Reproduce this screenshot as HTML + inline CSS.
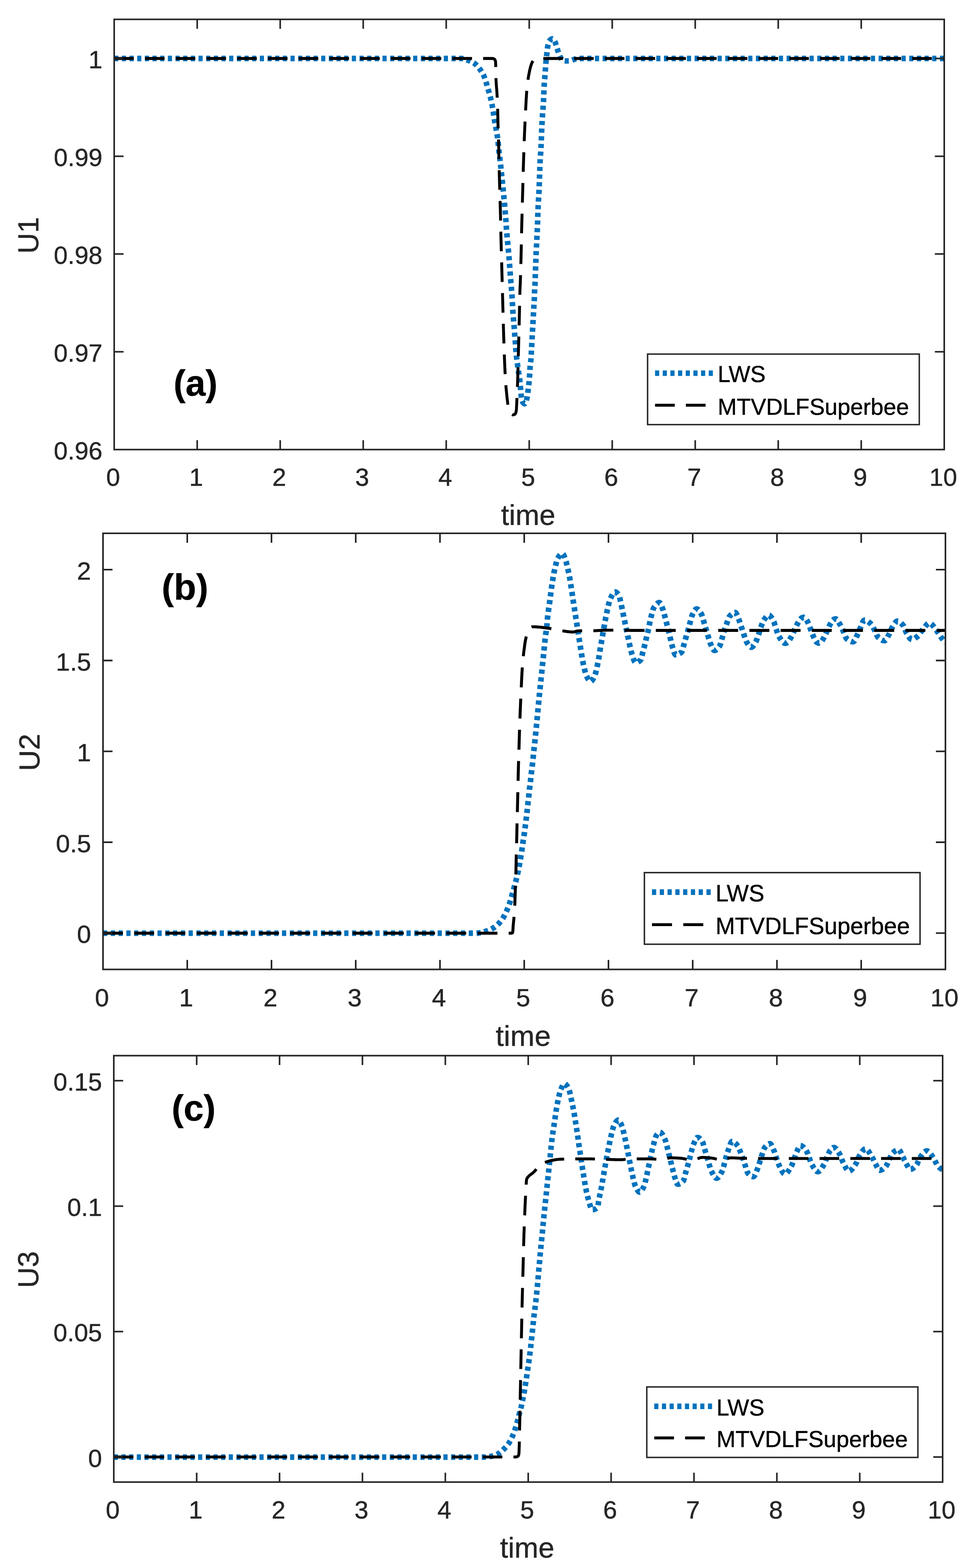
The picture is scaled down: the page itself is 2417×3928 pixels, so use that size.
<!DOCTYPE html>
<html><head><meta charset="utf-8"><title>U1 U2 U3 vs time</title>
<style>html,body{margin:0;padding:0;background:#fff;}svg{display:block;}</style>
</head><body>
<svg width="2417" height="3928" viewBox="0 0 2417 3928">
<rect x="0" y="0" width="2417" height="3928" fill="#fff"/>
<clipPath id="c0"><rect x="286" y="48.5" width="2079" height="1077.7"/></clipPath>
<path d="M286.0 146.5 1156.0 146.5 1158.5 146.7 1161.1 147.2 1163.6 147.9 1166.1 148.7 1168.7 149.6 1171.2 150.5 1173.6 151.3 1176.0 152.3 1178.4 153.3 1180.9 154.4 1183.3 155.6 1185.7 157.0 1188.1 158.5 1189.9 159.9 1191.7 161.5 1193.5 163.3 1195.4 165.3 1197.2 167.4 1199.0 169.7 1200.8 172.0 1202.1 173.7 1203.5 175.5 1204.8 177.4 1206.1 179.4 1207.4 181.6 1208.8 183.8 1210.1 186.3 1211.4 189.0 1212.3 191.0 1213.2 193.4 1214.1 195.9 1215.0 198.6 1215.9 201.3 1216.8 204.2 1217.7 207.0 1218.5 209.4 1219.2 211.9 1220.0 214.5 1220.7 217.1 1221.5 219.7 1222.2 222.4 1223.0 225.0 1223.8 227.6 1224.5 230.2 1225.3 232.8 1226.0 235.5 1226.8 238.2 1227.5 241.0 1228.3 244.0 1228.9 246.4 1229.5 249.0 1230.1 251.6 1230.7 254.3 1231.3 257.1 1231.9 260.0 1232.5 263.0 1233.0 265.4 1233.4 268.0 1233.9 270.7 1234.3 273.4 1234.8 276.2 1235.2 279.1 1235.7 282.0 1236.1 284.6 1236.5 287.4 1236.9 290.2 1237.3 293.0 1237.7 295.8 1238.1 298.5 1238.5 301.0 1239.0 303.9 1239.5 306.7 1240.0 309.4 1240.5 312.0 1241.0 314.6 1241.5 317.3 1242.0 320.0 1242.5 322.5 1242.9 324.9 1243.4 327.3 1243.8 329.7 1244.3 332.3 1244.7 335.0 1245.2 338.0 1245.5 340.3 1245.9 342.8 1246.2 345.5 1246.5 348.3 1246.8 351.2 1247.2 354.1 1247.5 357.0 1247.8 359.6 1248.1 362.3 1248.4 365.1 1248.6 367.9 1248.9 370.7 1249.2 373.4 1249.5 376.0 1249.8 378.6 1250.1 381.2 1250.4 383.6 1250.8 386.0 1251.1 388.4 1251.4 390.9 1251.7 393.4 1252.0 396.0 1252.3 398.3 1252.5 400.7 1252.8 403.1 1253.1 405.6 1253.3 408.1 1253.6 410.7 1253.9 413.2 1254.1 415.8 1254.4 418.4 1254.7 421.0 1254.9 423.6 1255.2 426.3 1255.5 428.9 1255.7 431.4 1256.0 434.0 1256.3 436.5 1256.5 439.1 1256.8 441.6 1257.1 444.1 1257.3 446.6 1257.6 449.2 1257.9 451.7 1258.1 454.2 1258.4 456.8 1258.7 459.3 1258.9 461.9 1259.2 464.5 1259.5 467.2 1259.7 469.8 1260.0 472.5 1260.2 474.9 1260.5 477.4 1260.7 479.9 1261.0 482.3 1261.2 484.8 1261.4 487.3 1261.7 489.8 1261.9 492.3 1262.2 494.8 1262.4 497.3 1262.7 499.9 1262.9 502.5 1263.1 505.1 1263.4 507.7 1263.6 510.4 1263.9 513.0 1264.1 515.7 1264.3 518.5 1264.6 521.2 1264.8 524.0 1265.1 526.8 1265.3 529.7 1265.5 532.1 1265.7 534.5 1265.9 537.0 1266.1 539.5 1266.3 542.1 1266.5 544.8 1266.7 547.4 1266.9 550.1 1267.1 552.8 1267.3 555.5 1267.4 558.3 1267.6 561.0 1267.8 563.7 1268.0 566.4 1268.2 569.1 1268.4 571.7 1268.6 574.4 1268.8 577.0 1269.0 579.5 1269.2 582.0 1269.4 584.4 1269.6 586.8 1269.8 589.6 1270.1 592.4 1270.3 595.1 1270.6 597.8 1270.8 600.4 1271.0 602.9 1271.3 605.4 1271.5 607.9 1271.8 610.4 1272.0 612.9 1272.2 615.3 1272.5 617.8 1272.7 620.2 1273.0 622.7 1273.2 625.2 1273.5 627.7 1273.7 630.3 1273.9 632.9 1274.2 635.6 1274.4 638.3 1274.7 641.1 1274.9 644.0 1275.1 646.3 1275.3 648.7 1275.5 651.2 1275.7 653.7 1275.9 656.3 1276.0 658.9 1276.2 661.5 1276.4 664.2 1276.6 666.8 1276.8 669.5 1277.0 672.3 1277.2 675.0 1277.4 677.7 1277.6 680.4 1277.8 683.1 1278.0 685.8 1278.1 688.4 1278.3 691.0 1278.5 693.6 1278.7 696.2 1278.9 698.7 1279.1 701.1 1279.3 703.7 1279.5 706.3 1279.7 708.7 1280.0 711.1 1280.2 713.5 1280.4 715.8 1280.6 718.1 1280.8 720.5 1281.0 722.9 1281.2 725.3 1281.4 727.9 1281.7 730.5 1281.9 733.2 1282.1 736.1 1282.3 739.2 1282.4 741.4 1282.6 743.7 1282.7 746.2 1282.9 748.9 1283.0 751.6 1283.1 754.4 1283.3 757.3 1283.4 760.2 1283.6 763.1 1283.7 765.9 1283.8 768.6 1284.0 771.3 1284.1 773.8 1284.3 776.1 1284.4 778.3 1284.6 781.4 1284.8 784.3 1285.0 787.0 1285.3 789.7 1285.5 792.2 1285.7 794.7 1285.9 797.1 1286.1 799.4 1286.3 801.8 1286.5 804.1 1286.7 806.4 1287.0 808.8 1287.2 811.3 1287.4 813.8 1287.6 816.4 1287.8 818.8 1288.0 821.3 1288.2 823.8 1288.4 826.3 1288.6 828.9 1288.8 831.4 1289.0 834.0 1289.1 836.6 1289.3 839.2 1289.5 841.8 1289.7 844.3 1289.9 846.9 1290.1 849.5 1290.3 852.0 1290.5 854.5 1290.7 857.1 1290.9 859.8 1291.1 862.5 1291.3 865.3 1291.5 868.0 1291.7 870.8 1291.9 873.5 1292.1 876.2 1292.3 878.8 1292.5 881.4 1292.7 883.9 1292.9 886.3 1293.1 888.5 1293.3 890.6 1293.5 892.6 1293.9 895.8 1294.2 898.7 1294.6 901.4 1294.9 904.0 1295.3 906.5 1295.6 909.0 1296.0 911.6 1296.4 914.4 1296.7 917.2 1297.1 919.9 1297.5 922.7 1297.9 925.4 1298.2 928.1 1298.6 930.7 1299.0 933.5 1299.4 936.0 1299.8 938.5 1300.3 941.1 1300.7 943.7 1301.1 946.5 1301.5 949.7 1301.8 952.0 1302.0 954.5 1302.3 957.2 1302.6 960.0 1302.9 962.9 1303.1 965.8 1303.4 968.8 1303.6 971.5 1303.9 974.4 1304.1 977.4 1304.3 980.4 1304.5 983.2 1304.8 985.7 1305.0 987.8 1305.5 991.7 1306.0 995.4 1306.5 998.7 1307.0 1001.4 1307.5 1003.6 1308.0 1005.0 1310.0 1008.4 1312.0 1010.7 1314.0 1011.5 1314.9 1011.0 1315.9 1009.7 1316.8 1007.6 1317.7 1005.0 1318.6 1001.8 1319.6 998.2 1320.5 994.4 1320.8 992.7 1321.2 990.4 1321.5 987.8 1321.9 985.0 1322.2 982.0 1322.6 979.0 1322.9 976.2 1323.2 973.6 1323.6 971.1 1323.9 968.5 1324.2 965.8 1324.5 963.0 1324.9 960.0 1325.2 956.7 1325.4 954.4 1325.6 951.8 1325.8 949.1 1326.1 946.3 1326.3 943.3 1326.5 940.2 1326.7 937.0 1326.9 934.4 1327.0 931.6 1327.2 928.6 1327.3 925.6 1327.5 922.8 1327.6 920.2 1327.8 918.0 1328.1 914.7 1328.4 912.0 1328.7 909.6 1329.0 907.3 1329.3 904.9 1329.6 902.2 1329.9 898.9 1330.1 896.8 1330.2 894.3 1330.4 891.6 1330.5 888.8 1330.7 885.8 1330.8 882.8 1331.0 879.9 1331.1 877.3 1331.3 874.5 1331.4 871.7 1331.6 869.0 1331.7 866.2 1331.9 863.4 1332.0 860.8 1332.2 858.0 1332.3 855.3 1332.5 852.6 1332.6 850.0 1332.8 847.3 1332.9 844.6 1333.1 841.8 1333.2 839.2 1333.4 836.5 1333.5 833.7 1333.7 830.9 1333.8 828.2 1334.0 825.4 1334.1 822.8 1334.3 820.0 1334.4 817.3 1334.6 814.6 1334.7 811.9 1334.9 809.2 1335.0 806.5 1335.2 803.7 1335.3 801.1 1335.5 798.3 1335.6 795.6 1335.8 792.8 1335.9 790.1 1336.1 787.3 1336.2 784.7 1336.4 781.9 1336.5 779.1 1336.7 776.4 1336.8 773.7 1337.0 771.0 1337.1 768.3 1337.3 765.6 1337.5 763.0 1337.6 760.5 1337.8 758.1 1337.9 755.6 1338.1 753.0 1338.2 750.0 1338.4 746.6 1338.5 744.3 1338.6 741.6 1338.7 738.6 1338.7 735.5 1338.8 732.5 1338.9 729.8 1339.0 727.5 1339.2 724.2 1339.3 721.4 1339.5 719.0 1339.6 716.7 1339.8 714.3 1339.9 711.6 1340.1 708.5 1340.2 706.4 1340.3 704.1 1340.4 701.6 1340.4 698.9 1340.5 696.2 1340.6 693.5 1340.7 690.9 1340.8 688.4 1340.9 685.7 1341.0 682.9 1341.1 680.2 1341.2 677.4 1341.3 674.7 1341.4 672.0 1341.5 669.3 1341.6 666.6 1341.7 663.9 1341.8 661.2 1341.9 658.6 1342.0 656.0 1342.1 653.4 1342.2 650.8 1342.3 648.3 1342.4 645.7 1342.5 643.3 1342.6 640.8 1342.7 638.4 1342.8 636.0 1342.9 633.6 1343.0 631.3 1343.1 628.4 1343.3 625.6 1343.4 622.9 1343.5 620.3 1343.6 617.7 1343.8 615.1 1343.9 612.6 1344.0 610.2 1344.1 607.7 1344.3 605.3 1344.4 602.9 1344.5 600.5 1344.7 598.0 1344.8 595.6 1344.9 593.1 1345.0 590.6 1345.2 588.0 1345.3 585.4 1345.4 582.7 1345.5 579.9 1345.7 577.0 1345.8 574.1 1345.9 571.8 1346.0 569.4 1346.1 566.9 1346.2 564.4 1346.3 561.7 1346.4 559.0 1346.5 556.3 1346.6 553.5 1346.7 550.7 1346.8 547.9 1346.8 545.1 1346.9 542.3 1347.0 539.5 1347.1 536.7 1347.2 534.0 1347.3 531.3 1347.4 528.7 1347.5 526.2 1347.6 523.8 1347.7 521.4 1347.8 519.1 1347.9 517.0 1348.0 514.0 1348.2 511.3 1348.3 508.6 1348.5 506.1 1348.6 503.7 1348.7 501.4 1348.9 499.0 1349.0 496.7 1349.2 494.4 1349.3 492.1 1349.4 489.7 1349.6 487.2 1349.7 484.6 1349.9 481.8 1350.0 478.9 1350.1 476.7 1350.2 474.4 1350.3 472.0 1350.4 469.5 1350.5 466.9 1350.6 464.3 1350.7 461.6 1350.8 458.9 1350.9 456.2 1351.0 453.5 1351.1 450.8 1351.2 448.0 1351.3 445.3 1351.4 442.6 1351.5 440.0 1351.6 437.3 1351.7 434.6 1351.8 431.7 1351.9 428.9 1352.0 425.9 1352.1 423.0 1352.2 420.1 1352.3 417.2 1352.4 414.3 1352.5 411.5 1352.6 408.8 1352.7 406.2 1352.8 403.7 1352.9 401.3 1353.0 399.1 1353.1 397.1 1353.2 395.3 1353.4 392.2 1353.6 389.6 1353.8 387.3 1354.0 385.1 1354.2 382.8 1354.4 380.3 1354.6 377.4 1354.7 375.3 1354.9 372.9 1355.0 370.4 1355.1 367.8 1355.2 365.1 1355.4 362.3 1355.5 359.4 1355.6 357.1 1355.7 354.7 1355.8 352.3 1355.9 349.7 1356.0 347.2 1356.1 344.5 1356.2 341.9 1356.3 339.3 1356.4 336.6 1356.5 333.8 1356.6 330.9 1356.7 328.0 1356.8 325.2 1356.9 322.6 1357.0 320.2 1357.1 317.1 1357.3 314.2 1357.4 311.4 1357.6 308.8 1357.7 306.2 1357.9 303.7 1358.0 301.2 1358.2 298.4 1358.3 295.7 1358.5 293.1 1358.6 290.5 1358.8 288.0 1358.9 285.5 1359.1 283.2 1359.3 280.3 1359.5 277.5 1359.7 275.0 1360.0 272.4 1360.2 269.8 1360.4 267.1 1360.6 264.1 1360.8 261.6 1360.9 259.1 1361.1 256.5 1361.3 253.6 1361.4 250.6 1361.6 247.2 1361.7 244.9 1361.8 242.2 1361.9 239.3 1362.0 236.3 1362.1 233.3 1362.2 230.6 1362.3 228.1 1362.4 224.9 1362.6 221.9 1362.7 219.1 1362.9 216.4 1363.0 213.8 1363.2 211.4 1363.3 209.1 1363.5 205.9 1363.7 203.1 1363.9 200.3 1364.2 197.8 1364.4 195.2 1364.6 192.7 1364.8 190.0 1365.0 187.4 1365.2 184.9 1365.4 182.3 1365.6 179.8 1365.8 177.2 1366.0 174.7 1366.2 172.1 1366.4 169.5 1366.6 166.8 1366.8 164.0 1367.0 161.4 1367.2 158.7 1367.4 156.3 1367.6 154.0 1367.9 151.1 1368.1 148.4 1368.4 145.9 1368.7 143.4 1369.0 141.0 1369.2 138.7 1369.5 136.3 1369.8 134.0 1370.1 130.9 1370.5 127.7 1370.8 124.5 1371.2 121.4 1371.5 118.6 1371.9 116.2 1372.2 114.4 1373.1 110.8 1373.9 107.8 1374.8 105.2 1375.6 103.3 1376.5 102.0 1378.8 99.5 1381.2 97.8 1383.5 97.2 1385.3 98.0 1387.2 99.9 1389.0 102.5 1389.9 104.3 1390.9 106.8 1391.8 109.8 1392.8 112.9 1393.7 115.8 1394.6 118.4 1395.4 121.2 1396.3 124.0 1397.1 126.8 1398.0 129.5 1398.8 132.1 1399.7 134.4 1400.8 137.1 1401.8 139.6 1402.9 142.0 1403.9 144.1 1405.0 146.0 1407.2 149.7 1409.3 151.8 1412.2 152.3 1415.1 152.5 1418.0 152.6 1421.0 152.6 1424.0 152.5 1427.0 152.4 1430.0 151.8 1433.0 150.6 1436.0 149.5 1438.8 148.6 1441.5 147.7 1444.2 146.9 1447.0 146.6 1449.6 146.6 1452.2 146.5 1454.8 146.5 1457.4 146.5 1460.0 146.5 2365.0 146.5" fill="none" stroke="#0072BD" stroke-width="13.90" stroke-dasharray="10.40 8.80" stroke-linejoin="round" clip-path="url(#c0)"/>
<path d="M286.0 146.5 1235.0 146.5 1239.0 148.5 1241.0 153.0 1241.2 155.4 1241.5 160.0 1241.5 161.3 1241.6 163.2 1241.6 165.6 1241.7 168.4 1241.7 171.4 1241.8 174.6 1241.8 177.8 1241.8 180.9 1241.9 183.8 1241.9 186.4 1242.0 188.5 1242.0 190.0 1242.2 194.4 1242.3 198.3 1242.5 201.8 1242.6 205.0 1242.8 207.8 1242.9 210.4 1243.1 212.7 1243.3 214.8 1243.4 216.8 1243.6 218.7 1243.7 220.5 1243.9 222.2 1244.1 224.1 1244.2 225.9 1244.4 227.9 1244.5 230.0 1244.7 232.3 1244.8 234.9 1245.0 237.7 1245.1 239.9 1245.2 242.1 1245.4 244.4 1245.5 246.6 1245.6 249.0 1245.7 251.4 1245.8 254.0 1245.9 256.8 1246.1 259.7 1246.2 262.8 1246.3 266.2 1246.4 268.0 1246.4 270.1 1246.5 272.3 1246.5 274.7 1246.6 277.3 1246.6 279.9 1246.7 282.7 1246.8 285.6 1246.8 288.5 1246.9 291.4 1246.9 294.3 1247.0 297.2 1247.1 300.1 1247.1 302.9 1247.2 305.6 1247.2 308.2 1247.3 310.6 1247.3 312.9 1247.4 315.0 1247.5 318.0 1247.6 320.8 1247.7 323.3 1247.8 325.8 1247.9 328.1 1247.9 330.5 1248.0 332.8 1248.1 335.2 1248.2 337.8 1248.3 340.5 1248.4 343.5 1248.5 345.6 1248.5 347.7 1248.6 350.0 1248.6 352.4 1248.7 354.8 1248.8 357.3 1248.8 359.9 1248.9 362.5 1248.9 365.2 1249.0 367.9 1249.1 370.6 1249.1 373.4 1249.2 376.1 1249.2 378.9 1249.3 381.6 1249.3 384.4 1249.4 387.1 1249.5 389.8 1249.5 392.4 1249.6 395.0 1249.6 397.5 1249.7 400.0 1249.8 402.6 1249.8 405.3 1249.9 407.9 1250.0 410.5 1250.0 413.1 1250.1 415.7 1250.2 418.2 1250.2 420.8 1250.3 423.3 1250.3 425.8 1250.4 428.3 1250.5 430.8 1250.5 433.3 1250.6 435.7 1250.7 438.1 1250.7 440.5 1250.8 442.9 1250.9 445.6 1250.9 448.2 1251.0 450.9 1251.1 453.4 1251.2 456.0 1251.2 458.5 1251.3 460.9 1251.4 463.4 1251.5 465.8 1251.5 468.2 1251.6 470.6 1251.7 473.0 1251.8 475.4 1251.8 477.8 1251.9 480.2 1252.0 482.6 1252.1 485.0 1252.1 487.4 1252.2 489.8 1252.3 492.2 1252.4 494.7 1252.4 497.2 1252.5 499.7 1252.6 502.2 1252.7 504.8 1252.7 507.4 1252.8 510.1 1252.9 512.8 1253.0 515.5 1253.0 518.3 1253.1 521.2 1253.2 523.4 1253.2 525.7 1253.3 528.1 1253.3 530.5 1253.4 532.9 1253.4 535.4 1253.5 537.9 1253.6 540.5 1253.6 543.1 1253.7 545.7 1253.7 548.3 1253.8 551.0 1253.8 553.7 1253.9 556.3 1253.9 559.0 1254.0 561.7 1254.1 564.4 1254.1 567.1 1254.2 569.8 1254.2 572.4 1254.3 575.1 1254.3 577.7 1254.4 580.3 1254.5 582.8 1254.5 585.4 1254.6 587.9 1254.6 590.3 1254.7 592.7 1254.7 595.1 1254.8 597.4 1254.9 600.2 1254.9 603.0 1255.0 605.7 1255.1 608.4 1255.2 611.1 1255.2 613.7 1255.3 616.3 1255.4 618.9 1255.4 621.5 1255.5 624.0 1255.6 626.5 1255.6 629.0 1255.7 631.5 1255.8 634.0 1255.8 636.5 1255.9 638.9 1256.0 641.4 1256.1 643.8 1256.1 646.3 1256.2 648.7 1256.3 651.2 1256.3 653.6 1256.4 656.1 1256.5 658.6 1256.6 661.0 1256.6 663.5 1256.7 666.0 1256.8 668.5 1256.8 671.1 1256.9 673.6 1257.0 676.2 1257.0 678.7 1257.1 681.3 1257.2 683.9 1257.2 686.4 1257.3 689.0 1257.4 691.6 1257.5 694.1 1257.5 696.7 1257.6 699.3 1257.7 701.9 1257.7 704.5 1257.8 707.0 1257.9 709.6 1258.0 712.2 1258.0 714.8 1258.1 717.4 1258.2 719.9 1258.2 722.5 1258.3 725.1 1258.4 727.7 1258.4 730.3 1258.5 732.8 1258.6 735.4 1258.7 738.0 1258.7 740.5 1258.8 743.1 1258.9 745.7 1258.9 748.2 1259.0 750.8 1259.1 753.4 1259.1 755.9 1259.2 758.5 1259.3 761.1 1259.3 763.7 1259.4 766.4 1259.5 769.0 1259.6 771.6 1259.6 774.2 1259.7 776.9 1259.8 779.5 1259.8 782.1 1259.9 784.7 1260.0 787.3 1260.0 789.9 1260.1 792.5 1260.2 795.1 1260.3 797.7 1260.3 800.3 1260.4 802.8 1260.5 805.3 1260.5 807.8 1260.6 810.3 1260.7 812.8 1260.8 815.2 1260.8 817.6 1260.9 820.0 1261.0 822.4 1261.0 824.7 1261.1 827.0 1261.2 829.8 1261.3 832.6 1261.4 835.4 1261.4 838.2 1261.5 841.0 1261.6 843.8 1261.7 846.5 1261.8 849.2 1261.9 852.0 1262.0 854.7 1262.1 857.4 1262.1 860.0 1262.2 862.7 1262.3 865.3 1262.4 867.9 1262.5 870.5 1262.6 873.0 1262.7 875.5 1262.7 878.0 1262.8 880.5 1262.9 882.9 1263.0 885.3 1263.1 887.7 1263.2 890.0 1263.3 892.3 1263.4 894.6 1263.4 896.8 1263.5 899.0 1263.6 901.1 1263.7 903.2 1263.8 906.2 1263.9 909.1 1264.1 912.0 1264.2 914.9 1264.3 917.7 1264.4 920.5 1264.6 923.3 1264.7 926.0 1264.8 928.7 1264.9 931.3 1265.1 933.9 1265.2 936.4 1265.3 938.9 1265.4 941.3 1265.6 943.6 1265.7 945.9 1265.8 948.1 1265.9 950.2 1266.1 952.2 1266.2 954.1 1266.3 956.0 1266.5 959.1 1266.7 962.1 1267.0 964.9 1267.2 967.5 1267.4 970.0 1267.6 972.4 1267.9 974.7 1268.1 977.1 1268.3 979.4 1268.6 982.4 1268.9 985.4 1269.2 988.3 1269.5 991.1 1269.7 993.9 1270.0 996.6 1270.3 999.2 1270.6 1001.6 1270.9 1004.0 1271.3 1007.0 1271.6 1009.9 1272.0 1012.7 1272.4 1015.4 1272.8 1017.9 1273.1 1020.1 1273.5 1022.0 1274.2 1025.4 1275.0 1028.3 1275.8 1030.7 1276.5 1032.5 1278.5 1035.7 1280.5 1037.5 1283.0 1038.8 1285.6 1039.3 1290.0 1037.5 1291.0 1036.2 1292.0 1033.6 1293.0 1029.4 1293.2 1028.0 1293.4 1025.9 1293.6 1023.2 1293.7 1020.1 1293.9 1016.6 1294.1 1013.1 1294.3 1009.5 1294.4 1007.3 1294.5 1005.0 1294.6 1002.5 1294.7 999.9 1294.8 997.1 1295.0 994.3 1295.1 991.5 1295.2 988.6 1295.3 985.8 1295.4 982.9 1295.5 980.2 1295.6 977.8 1295.7 975.4 1295.8 973.0 1295.9 970.6 1296.0 968.3 1296.1 965.9 1296.2 963.5 1296.3 961.0 1296.4 958.4 1296.5 955.7 1296.6 952.9 1296.7 950.0 1296.8 948.0 1296.8 946.0 1296.9 943.8 1297.0 941.6 1297.0 939.4 1297.1 937.0 1297.2 934.7 1297.2 932.2 1297.3 929.8 1297.3 927.2 1297.4 924.7 1297.5 922.1 1297.5 919.5 1297.6 916.8 1297.7 914.2 1297.7 911.5 1297.8 908.8 1297.9 906.1 1297.9 903.4 1298.0 900.7 1298.0 898.1 1298.1 895.4 1298.2 892.7 1298.2 890.1 1298.3 887.5 1298.4 884.9 1298.4 882.4 1298.5 879.9 1298.6 877.3 1298.6 874.8 1298.7 872.2 1298.8 869.7 1298.8 867.2 1298.9 864.6 1299.0 862.1 1299.0 859.6 1299.1 857.1 1299.2 854.6 1299.2 852.1 1299.3 849.6 1299.4 847.1 1299.4 844.6 1299.5 842.1 1299.6 839.6 1299.6 837.0 1299.7 834.5 1299.8 832.0 1299.8 829.5 1299.9 826.9 1300.0 824.4 1300.0 821.9 1300.1 819.3 1300.2 816.7 1300.2 814.1 1300.3 811.6 1300.4 809.0 1300.4 806.3 1300.5 803.7 1300.6 801.2 1300.6 798.7 1300.7 796.1 1300.7 793.5 1300.8 790.9 1300.9 788.2 1300.9 785.4 1301.0 782.7 1301.1 779.9 1301.1 777.1 1301.2 774.3 1301.2 771.5 1301.3 768.7 1301.4 765.9 1301.4 763.1 1301.5 760.4 1301.5 757.7 1301.6 755.0 1301.7 752.3 1301.7 749.7 1301.8 747.1 1301.8 744.6 1301.9 742.2 1302.0 739.8 1302.0 737.5 1302.1 735.2 1302.2 733.1 1302.2 731.0 1302.3 729.0 1302.3 727.2 1302.4 725.4 1302.5 722.4 1302.6 719.8 1302.7 717.4 1302.9 715.2 1303.0 712.8 1303.1 710.3 1303.2 707.5 1303.3 705.5 1303.3 703.5 1303.4 701.3 1303.5 699.2 1303.6 696.9 1303.6 694.6 1303.7 692.3 1303.8 689.8 1303.9 687.4 1303.9 684.9 1304.0 682.3 1304.1 679.7 1304.2 677.1 1304.2 674.4 1304.3 671.7 1304.4 669.0 1304.5 666.3 1304.5 663.5 1304.6 660.7 1304.7 657.9 1304.8 655.0 1304.8 652.2 1304.9 649.3 1305.0 647.1 1305.0 644.8 1305.1 642.4 1305.1 640.1 1305.2 637.6 1305.2 635.1 1305.3 632.6 1305.4 630.1 1305.4 627.5 1305.5 624.9 1305.5 622.2 1305.6 619.6 1305.6 616.9 1305.7 614.3 1305.8 611.6 1305.8 608.9 1305.9 606.2 1305.9 603.5 1306.0 600.8 1306.0 598.2 1306.1 595.5 1306.1 592.9 1306.2 590.3 1306.3 587.7 1306.3 585.2 1306.4 582.7 1306.4 580.2 1306.5 577.8 1306.5 575.4 1306.6 573.1 1306.7 570.3 1306.7 567.5 1306.8 564.7 1306.9 562.0 1306.9 559.3 1307.0 556.6 1307.1 554.0 1307.2 551.3 1307.2 548.7 1307.3 546.1 1307.4 543.6 1307.4 541.0 1307.5 538.4 1307.6 535.9 1307.7 533.4 1307.7 530.9 1307.8 528.4 1307.9 525.9 1307.9 523.4 1308.0 520.9 1308.1 518.4 1308.1 515.9 1308.2 513.4 1308.3 510.9 1308.3 508.4 1308.4 505.9 1308.5 503.4 1308.6 500.9 1308.6 498.4 1308.7 495.8 1308.8 493.2 1308.8 490.7 1308.9 488.1 1309.0 485.5 1309.0 482.9 1309.1 480.3 1309.2 477.7 1309.3 475.1 1309.3 472.5 1309.4 469.9 1309.5 467.2 1309.5 464.6 1309.6 462.0 1309.7 459.4 1309.8 456.9 1309.8 454.3 1309.9 451.7 1310.0 449.1 1310.0 446.6 1310.1 444.0 1310.2 441.5 1310.2 439.0 1310.3 436.5 1310.4 434.0 1310.5 431.6 1310.5 429.1 1310.6 426.7 1310.7 424.3 1310.7 421.9 1310.8 419.6 1310.9 416.9 1311.0 414.2 1311.0 411.6 1311.1 408.9 1311.2 406.3 1311.3 403.7 1311.4 401.1 1311.4 398.5 1311.5 395.9 1311.6 393.4 1311.7 390.9 1311.8 388.4 1311.9 385.9 1311.9 383.5 1312.0 381.0 1312.1 378.6 1312.2 376.2 1312.3 373.9 1312.3 371.6 1312.4 369.3 1312.5 367.0 1312.6 364.2 1312.7 361.5 1312.8 358.8 1312.9 356.1 1313.0 353.4 1313.1 350.8 1313.2 348.2 1313.3 345.6 1313.4 343.0 1313.5 340.5 1313.6 338.0 1313.7 335.5 1313.8 333.1 1313.9 330.7 1314.0 328.3 1314.1 325.9 1314.2 323.6 1314.3 321.3 1314.4 319.0 1314.5 316.2 1314.7 313.4 1314.8 310.6 1314.9 307.9 1315.0 305.3 1315.2 302.7 1315.3 300.1 1315.4 297.6 1315.5 295.0 1315.7 292.5 1315.8 290.0 1315.9 287.2 1316.1 284.5 1316.2 281.7 1316.4 278.9 1316.5 276.1 1316.6 273.3 1316.8 270.5 1316.9 267.8 1317.0 265.1 1317.2 262.4 1317.3 259.8 1317.5 257.2 1317.6 254.6 1317.7 252.2 1317.9 249.8 1318.0 247.4 1318.2 245.2 1318.3 243.0 1318.5 239.8 1318.7 236.7 1318.9 233.6 1319.1 230.7 1319.3 227.8 1319.6 225.0 1319.8 222.4 1320.0 219.9 1320.2 217.5 1320.4 215.3 1320.6 213.3 1321.0 210.0 1321.4 206.9 1321.7 204.1 1322.1 201.4 1322.5 198.9 1322.9 196.6 1323.2 194.3 1323.6 192.1 1324.0 190.0 1324.5 187.1 1325.1 184.2 1325.6 181.5 1326.1 178.9 1326.7 176.4 1327.2 174.0 1327.7 171.8 1328.3 169.7 1328.8 167.8 1329.6 164.9 1330.5 162.3 1331.3 159.8 1332.2 157.7 1333.0 156.0 1334.7 153.2 1336.3 150.9 1338.0 149.5 1340.9 148.0 1343.9 146.9 1346.8 146.5 2365.0 146.5" fill="none" stroke="#000" stroke-width="7.30" stroke-dasharray="49.20 27.80" stroke-linejoin="round" clip-path="url(#c0)"/>
<path d="M286 48.5H2365V1126.2H286ZM286 1126.2v-21.5M286 48.5v21.5M493.9 1126.2v-21.5M493.9 48.5v21.5M701.8 1126.2v-21.5M701.8 48.5v21.5M909.7 1126.2v-21.5M909.7 48.5v21.5M1117.6 1126.2v-21.5M1117.6 48.5v21.5M1325.5 1126.2v-21.5M1325.5 48.5v21.5M1533.4 1126.2v-21.5M1533.4 48.5v21.5M1741.3 1126.2v-21.5M1741.3 48.5v21.5M1949.2 1126.2v-21.5M1949.2 48.5v21.5M2157.1 1126.2v-21.5M2157.1 48.5v21.5M2365 1126.2v-21.5M2365 48.5v21.5M286 1126.2h21.5M2365 1126.2h-21.5M286 881.3h21.5M2365 881.3h-21.5M286 636.3h21.5M2365 636.3h-21.5M286 391.4h21.5M2365 391.4h-21.5M286 146.5h21.5M2365 146.5h-21.5" fill="none" stroke="#262626" stroke-width="4.00" stroke-linecap="square"/>
<text x="256.5" y="1150.8" font-family="'Liberation Sans', Arial, Helvetica, sans-serif" font-size="62.5" fill="#262626" stroke="#262626" stroke-width="0.6" text-anchor="end">0.96</text>
<text x="256.5" y="905.9" font-family="'Liberation Sans', Arial, Helvetica, sans-serif" font-size="62.5" fill="#262626" stroke="#262626" stroke-width="0.6" text-anchor="end">0.97</text>
<text x="256.5" y="660.9" font-family="'Liberation Sans', Arial, Helvetica, sans-serif" font-size="62.5" fill="#262626" stroke="#262626" stroke-width="0.6" text-anchor="end">0.98</text>
<text x="256.5" y="416" font-family="'Liberation Sans', Arial, Helvetica, sans-serif" font-size="62.5" fill="#262626" stroke="#262626" stroke-width="0.6" text-anchor="end">0.99</text>
<text x="256.5" y="171.1" font-family="'Liberation Sans', Arial, Helvetica, sans-serif" font-size="62.5" fill="#262626" stroke="#262626" stroke-width="0.6" text-anchor="end">1</text>
<text x="283.5" y="1217.2" font-family="'Liberation Sans', Arial, Helvetica, sans-serif" font-size="62.5" fill="#262626" stroke="#262626" stroke-width="0.6" text-anchor="middle">0</text>
<text x="491.4" y="1217.2" font-family="'Liberation Sans', Arial, Helvetica, sans-serif" font-size="62.5" fill="#262626" stroke="#262626" stroke-width="0.6" text-anchor="middle">1</text>
<text x="699.3" y="1217.2" font-family="'Liberation Sans', Arial, Helvetica, sans-serif" font-size="62.5" fill="#262626" stroke="#262626" stroke-width="0.6" text-anchor="middle">2</text>
<text x="907.2" y="1217.2" font-family="'Liberation Sans', Arial, Helvetica, sans-serif" font-size="62.5" fill="#262626" stroke="#262626" stroke-width="0.6" text-anchor="middle">3</text>
<text x="1115.1" y="1217.2" font-family="'Liberation Sans', Arial, Helvetica, sans-serif" font-size="62.5" fill="#262626" stroke="#262626" stroke-width="0.6" text-anchor="middle">4</text>
<text x="1323" y="1217.2" font-family="'Liberation Sans', Arial, Helvetica, sans-serif" font-size="62.5" fill="#262626" stroke="#262626" stroke-width="0.6" text-anchor="middle">5</text>
<text x="1530.9" y="1217.2" font-family="'Liberation Sans', Arial, Helvetica, sans-serif" font-size="62.5" fill="#262626" stroke="#262626" stroke-width="0.6" text-anchor="middle">6</text>
<text x="1738.8" y="1217.2" font-family="'Liberation Sans', Arial, Helvetica, sans-serif" font-size="62.5" fill="#262626" stroke="#262626" stroke-width="0.6" text-anchor="middle">7</text>
<text x="1946.7" y="1217.2" font-family="'Liberation Sans', Arial, Helvetica, sans-serif" font-size="62.5" fill="#262626" stroke="#262626" stroke-width="0.6" text-anchor="middle">8</text>
<text x="2154.6" y="1217.2" font-family="'Liberation Sans', Arial, Helvetica, sans-serif" font-size="62.5" fill="#262626" stroke="#262626" stroke-width="0.6" text-anchor="middle">9</text>
<text x="2362.5" y="1217.2" font-family="'Liberation Sans', Arial, Helvetica, sans-serif" font-size="62.5" fill="#262626" stroke="#262626" stroke-width="0.6" text-anchor="middle">10</text>
<text x="1323" y="1315.2" font-family="'Liberation Sans', Arial, Helvetica, sans-serif" font-size="72.0" fill="#262626" stroke="#262626" stroke-width="0.6" text-anchor="middle">time</text>
<text transform="translate(96.2 589.6) rotate(-90)" x="0" y="0" font-family="'Liberation Sans', Arial, Helvetica, sans-serif" font-size="72.0" fill="#262626" stroke="#262626" stroke-width="0.6" text-anchor="middle">U1</text>
<text x="434.8" y="990.8" font-family="'Liberation Sans', Arial, Helvetica, sans-serif" font-size="90" font-weight="bold" fill="#000" stroke="#000" stroke-width="0.6">(a)</text>
<rect x="1622" y="887" width="680.5" height="176.7" fill="#fff" stroke="#262626" stroke-width="3.60"/>
<path d="M1640.7 934.9H1786.5" stroke="#0072BD" stroke-width="13.90" stroke-dasharray="10.40 8.80"/>
<path d="M1640.7 1015.1H1786.5" stroke="#000" stroke-width="7.30" stroke-dasharray="49.40 27.80"/>
<text x="1797.4" y="957.3" font-family="'Liberation Sans', Arial, Helvetica, sans-serif" font-size="57.5" fill="#000" stroke="#000" stroke-width="0.6">LWS</text>
<text x="1797.4" y="1038.7" font-family="'Liberation Sans', Arial, Helvetica, sans-serif" font-size="57.5" fill="#000" stroke="#000" stroke-width="0.6">MTVDLFSuperbee</text>
<clipPath id="c1"><rect x="258" y="1336" width="2110" height="1092.5"/></clipPath>
<path d="M258.0 2337.8 1190.0 2337.8 1192.5 2337.8 1195.0 2337.6 1197.5 2337.4 1200.0 2337.1 1202.5 2336.8 1205.0 2336.5 1207.5 2336.0 1210.0 2335.3 1212.6 2334.5 1215.1 2333.6 1217.7 2332.7 1220.3 2331.8 1222.9 2330.8 1225.6 2329.8 1228.2 2328.6 1230.8 2327.4 1233.4 2326.0 1235.6 2324.7 1237.8 2323.3 1240.0 2321.7 1242.2 2320.0 1244.4 2318.1 1246.6 2316.1 1248.8 2314.0 1250.5 2312.3 1252.1 2310.4 1253.8 2308.3 1255.5 2306.1 1257.2 2303.8 1258.8 2301.3 1260.5 2298.7 1261.8 2296.6 1263.0 2294.3 1264.3 2291.9 1265.5 2289.3 1266.8 2286.7 1268.0 2283.9 1269.3 2281.1 1270.3 2278.8 1271.3 2276.5 1272.3 2274.1 1273.2 2271.6 1274.2 2269.0 1275.2 2266.3 1276.2 2263.5 1277.0 2261.1 1277.8 2258.5 1278.6 2255.8 1279.4 2253.0 1280.2 2250.1 1281.0 2247.3 1281.8 2244.5 1282.6 2241.8 1283.3 2239.2 1284.1 2236.5 1284.9 2233.8 1285.7 2231.1 1286.4 2228.3 1287.2 2225.5 1287.9 2223.0 1288.6 2220.4 1289.3 2217.8 1289.9 2215.2 1290.6 2212.6 1291.3 2209.9 1292.0 2207.2 1292.6 2204.7 1293.3 2202.2 1293.9 2199.6 1294.5 2197.0 1295.1 2194.4 1295.8 2191.7 1296.4 2188.9 1297.0 2186.4 1297.5 2183.7 1298.1 2181.1 1298.6 2178.3 1299.2 2175.5 1299.7 2172.7 1300.3 2169.8 1300.8 2167.2 1301.3 2164.6 1301.8 2161.9 1302.2 2159.2 1302.7 2156.4 1303.2 2153.6 1303.7 2150.8 1304.1 2148.2 1304.6 2145.6 1305.0 2142.9 1305.5 2140.2 1305.9 2137.5 1306.4 2134.7 1306.8 2131.8 1307.2 2129.1 1307.6 2126.3 1308.0 2123.4 1308.4 2120.5 1308.8 2117.6 1309.2 2114.8 1309.6 2112.0 1310.0 2109.2 1310.4 2106.5 1310.8 2103.9 1311.3 2101.2 1311.7 2098.5 1312.1 2095.8 1312.5 2093.0 1312.9 2090.3 1313.3 2087.5 1313.7 2084.7 1314.0 2081.9 1314.4 2079.0 1314.8 2076.1 1315.2 2073.2 1315.5 2070.6 1315.9 2067.9 1316.2 2065.2 1316.6 2062.5 1316.9 2059.7 1317.3 2057.0 1317.6 2054.2 1317.9 2051.5 1318.3 2048.9 1318.6 2046.2 1318.9 2043.5 1319.2 2040.8 1319.6 2038.0 1319.9 2035.1 1320.2 2032.4 1320.5 2029.6 1320.8 2026.8 1321.1 2023.9 1321.4 2021.0 1321.7 2018.2 1322.0 2015.4 1322.3 2012.6 1322.6 2009.8 1322.9 2007.0 1323.3 2004.3 1323.6 2001.6 1323.9 1998.8 1324.2 1995.9 1324.5 1993.4 1324.7 1990.9 1325.0 1988.3 1325.2 1985.7 1325.5 1983.1 1325.8 1980.5 1326.0 1978.1 1326.3 1975.7 1326.6 1972.9 1327.0 1970.3 1327.3 1967.7 1327.6 1965.2 1327.9 1962.7 1328.3 1960.1 1328.6 1957.4 1328.9 1954.8 1329.2 1952.1 1329.5 1949.3 1329.8 1946.4 1330.1 1943.6 1330.4 1940.9 1330.7 1938.2 1331.0 1935.4 1331.4 1932.6 1331.7 1929.9 1332.0 1927.2 1332.3 1924.5 1332.7 1921.8 1333.0 1919.0 1333.3 1916.5 1333.6 1913.9 1333.9 1911.4 1334.2 1908.8 1334.5 1906.1 1334.8 1903.5 1335.1 1900.7 1335.3 1898.3 1335.6 1895.8 1335.8 1893.2 1336.1 1890.6 1336.3 1888.0 1336.6 1885.4 1336.8 1882.9 1337.1 1880.5 1337.4 1877.6 1337.7 1874.9 1338.0 1872.2 1338.4 1869.6 1338.7 1866.9 1339.0 1864.2 1339.3 1861.3 1339.6 1858.7 1339.8 1856.0 1340.1 1853.2 1340.4 1850.3 1340.7 1847.5 1340.9 1844.7 1341.2 1842.0 1341.5 1839.2 1341.8 1836.5 1342.1 1833.7 1342.3 1831.0 1342.6 1828.3 1342.9 1825.6 1343.2 1822.8 1343.5 1820.1 1343.7 1817.4 1344.0 1814.7 1344.3 1812.0 1344.6 1809.3 1344.8 1806.5 1345.1 1803.6 1345.3 1801.2 1345.5 1798.7 1345.8 1796.1 1346.0 1793.6 1346.2 1791.0 1346.5 1788.4 1346.7 1785.9 1346.9 1783.4 1347.2 1780.6 1347.4 1777.8 1347.7 1775.1 1347.9 1772.4 1348.2 1769.7 1348.4 1766.9 1348.7 1764.2 1349.0 1761.4 1349.2 1758.7 1349.5 1755.9 1349.7 1753.1 1350.0 1750.3 1350.2 1747.6 1350.5 1745.0 1350.8 1742.2 1351.1 1739.4 1351.4 1736.6 1351.6 1733.9 1351.9 1731.2 1352.2 1728.5 1352.5 1725.8 1352.8 1723.0 1353.1 1720.2 1353.4 1717.4 1353.6 1714.6 1353.9 1711.8 1354.2 1709.0 1354.5 1706.3 1354.8 1703.5 1355.1 1700.8 1355.4 1698.2 1355.7 1695.5 1356.0 1692.9 1356.3 1690.1 1356.6 1687.3 1356.9 1684.6 1357.1 1681.8 1357.4 1679.0 1357.7 1676.1 1358.0 1673.3 1358.2 1670.5 1358.5 1667.8 1358.8 1664.9 1359.1 1662.1 1359.4 1659.4 1359.7 1656.7 1360.0 1653.9 1360.3 1651.2 1360.6 1648.3 1360.9 1645.6 1361.1 1642.9 1361.4 1640.2 1361.7 1637.4 1362.0 1634.7 1362.2 1631.9 1362.5 1629.2 1362.8 1626.4 1363.1 1623.5 1363.4 1620.7 1363.6 1617.9 1363.9 1615.1 1364.2 1612.4 1364.5 1609.7 1364.8 1606.8 1365.1 1603.9 1365.4 1601.0 1365.8 1598.2 1366.1 1595.4 1366.4 1592.7 1366.7 1590.2 1367.1 1587.3 1367.5 1584.7 1367.9 1582.3 1368.2 1579.8 1368.6 1577.3 1369.0 1574.4 1369.4 1571.1 1369.6 1568.8 1369.9 1566.0 1370.1 1563.0 1370.3 1559.9 1370.5 1556.9 1370.8 1554.0 1371.0 1551.5 1371.3 1548.4 1371.7 1545.4 1372.0 1542.7 1372.3 1540.1 1372.6 1537.6 1373.0 1535.1 1373.3 1532.6 1373.7 1529.8 1374.0 1527.1 1374.4 1524.4 1374.8 1521.7 1375.2 1519.1 1375.5 1516.5 1375.9 1513.8 1376.3 1511.0 1376.7 1508.2 1377.1 1505.4 1377.4 1502.6 1377.8 1499.8 1378.2 1496.9 1378.6 1494.0 1378.9 1491.3 1379.3 1488.6 1379.6 1485.8 1380.0 1483.1 1380.3 1480.3 1380.7 1477.7 1381.0 1475.1 1381.4 1472.2 1381.8 1469.4 1382.2 1466.6 1382.6 1464.0 1383.0 1461.3 1383.4 1458.7 1383.8 1456.2 1384.2 1453.5 1384.7 1450.9 1385.1 1448.3 1385.5 1445.8 1385.9 1443.3 1386.3 1440.9 1386.8 1438.6 1387.2 1436.4 1387.8 1433.4 1388.4 1430.5 1389.0 1427.7 1389.6 1425.0 1390.2 1422.4 1390.8 1419.9 1391.4 1417.5 1392.1 1414.5 1392.9 1411.5 1393.6 1408.5 1394.3 1405.7 1395.0 1403.2 1395.8 1401.1 1396.5 1399.5 1398.5 1396.1 1400.5 1393.1 1402.5 1390.5 1404.5 1388.5 1406.5 1387.3 1408.5 1386.8 1409.6 1387.3 1410.7 1388.5 1411.8 1390.5 1413.0 1393.0 1414.1 1395.9 1415.2 1399.1 1416.3 1402.4 1417.4 1405.6 1418.0 1407.5 1418.6 1409.7 1419.2 1412.1 1419.8 1414.6 1420.5 1417.3 1421.1 1420.0 1421.7 1422.8 1422.3 1425.5 1422.9 1428.0 1423.4 1430.5 1424.0 1433.1 1424.6 1435.7 1425.2 1438.4 1425.7 1441.3 1426.3 1444.3 1426.7 1446.7 1427.2 1449.3 1427.6 1452.0 1428.0 1454.8 1428.4 1457.7 1428.9 1460.5 1429.3 1463.2 1429.7 1465.9 1430.2 1468.5 1430.6 1471.2 1431.0 1473.8 1431.4 1476.5 1431.9 1479.2 1432.3 1482.0 1432.7 1484.4 1433.0 1486.9 1433.4 1489.4 1433.8 1492.0 1434.1 1494.5 1434.5 1497.0 1434.8 1499.5 1435.2 1501.9 1435.6 1504.7 1436.1 1507.4 1436.5 1510.0 1436.9 1512.7 1437.3 1515.3 1437.8 1518.0 1438.2 1520.7 1438.6 1523.1 1439.0 1525.6 1439.3 1528.1 1439.7 1530.7 1440.1 1533.2 1440.5 1535.7 1440.8 1538.2 1441.2 1540.6 1441.6 1543.3 1442.1 1546.0 1442.5 1548.7 1442.9 1551.3 1443.3 1554.0 1443.8 1556.7 1444.2 1559.4 1444.6 1562.1 1445.0 1564.8 1445.4 1567.5 1445.9 1570.2 1446.3 1572.9 1446.7 1575.6 1447.1 1578.3 1447.5 1581.0 1448.0 1583.7 1448.4 1586.4 1448.8 1589.0 1449.2 1591.7 1449.7 1594.4 1450.1 1597.1 1450.5 1599.5 1450.8 1602.0 1451.2 1604.5 1451.6 1607.0 1452.0 1609.6 1452.3 1612.1 1452.7 1614.6 1453.1 1617.0 1453.5 1619.7 1454.0 1622.5 1454.4 1625.2 1454.8 1627.8 1455.2 1630.5 1455.7 1633.2 1456.1 1635.8 1456.5 1638.6 1457.0 1641.4 1457.4 1644.2 1457.9 1646.9 1458.3 1649.6 1458.8 1652.2 1459.2 1654.6 1459.8 1657.6 1460.4 1660.5 1461.0 1663.3 1461.5 1666.0 1462.1 1668.6 1462.7 1671.1 1463.3 1673.5 1464.0 1676.4 1464.7 1679.2 1465.4 1682.1 1466.2 1684.8 1466.9 1687.3 1467.6 1689.6 1468.3 1691.6 1469.0 1693.3 1470.7 1696.7 1472.3 1700.0 1474.0 1702.8 1475.6 1705.1 1477.2 1706.6 1478.9 1707.2 1480.5 1706.8 1482.0 1705.6 1483.6 1703.8 1485.1 1701.4 1486.7 1698.6 1488.2 1695.6 1489.8 1692.3 1490.5 1690.5 1491.2 1688.3 1491.9 1685.6 1492.7 1682.8 1493.4 1679.7 1494.1 1676.6 1494.8 1673.5 1495.4 1671.1 1495.9 1668.6 1496.5 1666.0 1497.0 1663.3 1497.6 1660.5 1498.1 1657.6 1498.7 1654.6 1499.1 1652.3 1499.5 1650.0 1499.9 1647.5 1500.3 1645.0 1500.7 1642.4 1501.1 1639.8 1501.5 1637.3 1501.9 1634.8 1502.3 1632.1 1502.8 1629.4 1503.2 1626.6 1503.7 1623.9 1504.1 1621.2 1504.6 1618.6 1505.0 1616.0 1505.5 1613.2 1506.0 1610.5 1506.5 1607.8 1506.9 1605.2 1507.4 1602.5 1507.9 1599.8 1508.4 1597.1 1508.9 1594.5 1509.3 1591.8 1509.8 1589.1 1510.2 1586.4 1510.7 1583.7 1511.1 1581.0 1511.6 1578.3 1512.1 1575.6 1512.5 1572.8 1513.0 1570.0 1513.5 1567.3 1514.0 1564.6 1514.4 1562.0 1514.9 1559.4 1515.4 1556.6 1516.0 1553.8 1516.5 1551.1 1517.0 1548.4 1517.5 1545.8 1518.1 1543.2 1518.6 1540.6 1519.1 1538.0 1519.6 1535.4 1520.2 1532.8 1520.7 1530.2 1521.2 1527.7 1521.8 1525.3 1522.3 1522.9 1522.8 1520.7 1523.5 1517.6 1524.3 1514.5 1525.0 1511.5 1525.8 1508.7 1526.5 1506.1 1527.3 1503.8 1528.0 1501.9 1529.4 1498.8 1530.8 1495.7 1532.1 1492.8 1533.5 1490.2 1534.9 1487.8 1536.3 1485.8 1537.6 1484.3 1539.0 1483.3 1540.4 1483.0 1542.4 1483.4 1544.4 1484.6 1546.5 1486.5 1548.5 1489.0 1550.5 1492.0 1551.2 1493.5 1551.8 1495.8 1552.5 1498.6 1553.2 1501.7 1553.8 1504.8 1554.5 1507.8 1555.1 1510.3 1555.7 1512.9 1556.3 1515.6 1556.8 1518.4 1557.4 1521.1 1558.0 1523.9 1558.6 1526.7 1559.1 1529.1 1559.6 1531.6 1560.1 1534.0 1560.6 1536.5 1561.1 1539.0 1561.6 1541.5 1562.1 1544.0 1562.6 1546.5 1563.2 1549.2 1563.7 1551.9 1564.3 1554.6 1564.8 1557.3 1565.4 1560.0 1565.9 1562.7 1566.5 1565.4 1567.1 1568.1 1567.6 1570.8 1568.2 1573.5 1568.7 1576.2 1569.3 1578.9 1569.8 1581.5 1570.4 1584.2 1571.0 1586.9 1571.5 1589.6 1572.1 1592.4 1572.7 1595.1 1573.3 1597.8 1573.8 1600.4 1574.4 1603.1 1575.0 1605.8 1575.6 1608.6 1576.2 1611.4 1576.7 1614.1 1577.3 1616.8 1577.9 1619.4 1578.5 1621.9 1579.2 1624.9 1579.9 1627.8 1580.6 1630.7 1581.4 1633.5 1582.1 1636.2 1582.8 1638.6 1583.5 1640.8 1584.6 1644.0 1585.6 1647.3 1586.7 1650.5 1587.8 1653.5 1588.8 1656.1 1589.9 1658.2 1590.9 1659.5 1592.0 1660.0 1594.6 1659.7 1597.2 1658.8 1599.7 1657.3 1602.3 1655.3 1604.9 1652.7 1605.6 1651.5 1606.3 1649.4 1607.0 1646.8 1607.7 1643.8 1608.4 1640.7 1609.1 1637.6 1609.8 1634.8 1610.5 1632.2 1611.2 1629.5 1611.9 1626.9 1612.7 1624.2 1613.4 1621.6 1614.1 1618.8 1614.8 1616.0 1615.4 1613.6 1616.0 1611.2 1616.6 1608.7 1617.2 1606.2 1617.7 1603.7 1618.3 1601.2 1618.9 1598.6 1619.5 1596.1 1620.1 1593.5 1620.7 1590.8 1621.3 1588.2 1622.0 1585.5 1622.6 1582.8 1623.2 1580.1 1623.8 1577.3 1624.4 1574.7 1624.9 1572.0 1625.5 1569.2 1626.1 1566.4 1626.7 1563.7 1627.2 1561.0 1627.8 1558.4 1628.4 1555.6 1629.1 1552.7 1629.7 1549.9 1630.3 1547.1 1630.9 1544.5 1631.6 1542.0 1632.2 1539.6 1633.1 1536.5 1633.9 1533.3 1634.8 1530.3 1635.6 1527.5 1636.5 1525.0 1637.3 1522.9 1638.2 1521.3 1640.1 1518.6 1642.0 1516.1 1643.9 1513.9 1645.9 1512.1 1647.8 1510.7 1649.7 1509.8 1651.6 1509.5 1652.9 1510.1 1654.1 1511.7 1655.4 1514.0 1656.7 1517.0 1658.0 1520.4 1659.2 1523.9 1660.5 1527.3 1661.2 1529.4 1661.9 1531.7 1662.6 1534.2 1663.4 1536.9 1664.1 1539.7 1664.8 1542.5 1665.5 1545.2 1666.2 1547.8 1666.9 1550.5 1667.6 1553.1 1668.3 1555.8 1669.0 1558.6 1669.7 1561.3 1670.4 1564.0 1671.1 1566.7 1671.8 1569.3 1672.5 1572.0 1673.1 1574.7 1673.8 1577.4 1674.5 1580.1 1675.2 1582.9 1675.8 1585.5 1676.5 1588.2 1677.1 1590.9 1677.7 1593.6 1678.3 1596.4 1679.0 1599.1 1679.6 1601.7 1680.3 1604.5 1680.9 1607.4 1681.6 1610.3 1682.3 1613.1 1683.0 1615.8 1683.6 1618.3 1684.3 1620.6 1685.3 1623.9 1686.3 1627.2 1687.3 1630.6 1688.3 1633.7 1689.3 1636.4 1690.3 1638.6 1691.3 1640.0 1692.3 1640.5 1694.8 1640.3 1697.2 1639.7 1699.7 1638.7 1702.2 1637.3 1704.6 1635.6 1707.1 1633.5 1708.0 1632.2 1708.8 1630.1 1709.7 1627.4 1710.5 1624.3 1711.4 1620.9 1712.2 1617.7 1713.1 1614.6 1713.9 1612.0 1714.6 1609.4 1715.4 1606.7 1716.1 1604.0 1716.9 1601.2 1717.6 1598.5 1718.4 1595.8 1719.2 1593.1 1719.9 1590.4 1720.7 1587.7 1721.5 1585.1 1722.3 1582.4 1723.0 1579.6 1723.8 1576.9 1724.5 1574.3 1725.3 1571.6 1726.0 1568.8 1726.7 1566.1 1727.4 1563.4 1728.2 1560.7 1728.9 1558.1 1729.7 1555.2 1730.5 1552.1 1731.3 1549.1 1732.1 1546.1 1732.9 1543.4 1733.7 1541.1 1734.5 1539.2 1736.2 1535.8 1737.9 1532.6 1739.7 1529.7 1741.4 1527.4 1743.1 1525.9 1744.8 1525.4 1746.8 1525.9 1748.8 1527.2 1750.8 1529.3 1752.7 1531.9 1754.7 1534.9 1756.7 1538.2 1757.6 1540.0 1758.4 1542.3 1759.3 1545.0 1760.2 1548.0 1761.1 1551.1 1761.9 1554.2 1762.8 1557.1 1763.6 1559.7 1764.4 1562.3 1765.2 1565.0 1765.9 1567.8 1766.7 1570.5 1767.5 1573.2 1768.3 1575.9 1769.1 1578.5 1769.8 1581.1 1770.6 1583.7 1771.3 1586.2 1772.1 1588.8 1772.8 1591.3 1773.6 1593.8 1774.5 1596.7 1775.3 1599.6 1776.2 1602.5 1777.0 1605.4 1777.9 1608.0 1778.7 1610.5 1779.6 1612.6 1781.0 1615.9 1782.4 1619.2 1783.8 1622.3 1785.3 1625.1 1786.7 1627.4 1788.1 1628.9 1789.5 1629.4 1791.7 1629.0 1793.8 1628.0 1796.0 1626.3 1798.1 1624.1 1800.2 1621.5 1802.4 1618.6 1803.2 1617.0 1804.1 1614.8 1804.9 1612.0 1805.8 1609.0 1806.6 1605.8 1807.5 1602.6 1808.3 1599.7 1809.1 1597.1 1809.9 1594.3 1810.7 1591.6 1811.4 1588.8 1812.2 1586.1 1813.0 1583.5 1813.8 1580.9 1814.7 1578.0 1815.6 1575.2 1816.5 1572.5 1817.5 1569.8 1818.4 1567.1 1819.3 1564.5 1820.2 1562.0 1821.2 1559.1 1822.2 1556.2 1823.2 1553.2 1824.2 1550.4 1825.2 1547.8 1826.2 1545.7 1827.2 1544.2 1829.5 1541.6 1831.8 1539.2 1834.2 1537.2 1836.5 1535.6 1838.8 1534.7 1841.1 1534.3 1842.3 1534.8 1843.6 1536.1 1844.8 1538.2 1846.0 1540.8 1847.3 1543.7 1848.5 1546.9 1849.8 1550.1 1851.0 1553.1 1851.9 1555.3 1852.7 1557.7 1853.6 1560.2 1854.4 1562.9 1855.3 1565.7 1856.1 1568.4 1857.0 1571.0 1857.8 1573.5 1858.7 1576.1 1859.5 1578.7 1860.4 1581.3 1861.2 1583.8 1862.1 1586.3 1862.9 1588.8 1863.8 1591.4 1864.6 1594.0 1865.5 1596.7 1866.3 1599.3 1867.2 1601.8 1868.1 1604.0 1868.9 1606.0 1869.8 1607.7 1871.5 1610.6 1873.2 1613.4 1874.9 1615.9 1876.6 1618.2 1878.3 1619.9 1880.0 1621.1 1881.7 1621.5 1883.3 1621.1 1884.9 1619.9 1886.5 1618.2 1888.1 1615.9 1889.7 1613.4 1891.3 1610.7 1892.9 1607.9 1893.9 1606.0 1894.9 1603.7 1895.9 1601.2 1896.8 1598.5 1897.8 1595.6 1898.8 1592.7 1899.8 1589.8 1900.7 1587.2 1901.5 1584.5 1902.4 1581.7 1903.2 1578.8 1904.1 1576.0 1904.9 1573.3 1905.8 1570.9 1906.9 1567.9 1908.0 1564.9 1909.1 1562.0 1910.2 1559.3 1911.3 1556.8 1912.4 1554.7 1913.5 1552.9 1915.5 1550.1 1917.5 1547.4 1919.5 1545.0 1921.6 1543.0 1923.6 1541.8 1925.6 1541.3 1927.3 1541.7 1929.0 1543.0 1930.7 1544.9 1932.5 1547.3 1934.2 1550.1 1935.9 1553.1 1937.6 1556.3 1938.5 1558.2 1939.3 1560.5 1940.2 1563.2 1941.0 1566.0 1941.9 1568.9 1942.7 1571.8 1943.6 1574.4 1944.5 1577.0 1945.3 1579.6 1946.2 1582.3 1947.0 1584.9 1947.9 1587.4 1948.8 1589.6 1949.6 1591.6 1950.5 1593.3 1952.3 1596.3 1954.1 1599.3 1955.9 1602.1 1957.7 1604.7 1959.6 1606.9 1961.4 1608.8 1963.2 1610.3 1965.0 1611.2 1966.8 1611.5 1970.9 1610.2 1973.0 1608.6 1975.1 1606.3 1977.2 1603.6 1979.2 1600.3 1980.6 1597.8 1982.0 1595.2 1983.4 1592.5 1984.8 1589.6 1986.1 1586.6 1987.5 1583.6 1988.6 1581.3 1989.6 1579.0 1990.6 1576.6 1991.7 1574.3 1993.1 1571.3 1994.4 1568.3 1995.8 1565.4 1997.2 1562.7 1998.6 1560.1 2000.0 1557.6 2002.0 1554.3 2004.1 1551.6 2006.2 1549.3 2008.3 1547.7 2012.4 1546.4 2016.6 1548.4 2018.7 1550.7 2020.8 1554.0 2022.2 1556.5 2023.6 1559.5 2025.0 1562.6 2026.0 1565.1 2027.1 1567.7 2028.2 1570.4 2029.2 1573.2 2030.2 1576.0 2031.3 1578.8 2032.3 1581.6 2033.4 1584.4 2034.4 1587.2 2035.5 1589.9 2036.5 1592.5 2037.6 1595.0 2039.0 1598.1 2040.4 1601.1 2041.8 1603.6 2043.9 1606.9 2046.0 1609.2 2050.2 1611.2 2054.4 1609.7 2056.6 1607.9 2058.7 1605.4 2060.1 1603.4 2061.5 1601.1 2062.9 1598.6 2064.4 1596.0 2065.8 1593.1 2067.2 1590.1 2068.3 1587.8 2069.3 1585.5 2070.4 1583.1 2071.4 1580.7 2072.5 1578.3 2073.6 1575.9 2074.6 1573.6 2075.7 1571.3 2077.1 1568.3 2078.5 1565.4 2079.9 1562.8 2081.4 1560.3 2082.8 1558.0 2084.2 1556.0 2086.3 1553.5 2088.4 1551.7 2092.7 1550.2 2094.4 1550.7 2096.0 1552.0 2097.7 1554.0 2099.3 1556.5 2101.0 1559.3 2102.6 1562.1 2104.3 1564.9 2105.5 1567.0 2106.7 1569.4 2107.9 1572.0 2109.2 1574.7 2110.4 1577.5 2111.6 1580.3 2112.8 1582.9 2114.0 1585.7 2115.2 1588.7 2116.4 1591.8 2117.7 1594.8 2118.9 1597.4 2120.1 1599.5 2121.3 1600.9 2123.9 1602.8 2126.6 1604.5 2129.2 1605.8 2131.8 1606.8 2134.5 1607.5 2137.1 1607.7 2138.4 1607.2 2139.8 1605.9 2141.1 1603.9 2142.4 1601.4 2143.7 1598.5 2145.0 1595.5 2146.4 1592.6 2147.7 1589.8 2148.7 1587.7 2149.7 1585.5 2150.7 1583.1 2151.7 1580.7 2152.7 1578.2 2153.7 1575.8 2154.7 1573.5 2155.7 1571.3 2157.0 1568.3 2158.3 1565.1 2159.6 1561.8 2160.8 1558.8 2162.1 1556.2 2163.4 1554.5 2164.7 1553.9 2167.1 1554.1 2169.5 1554.8 2171.9 1555.9 2174.4 1557.4 2176.8 1559.1 2179.2 1561.0 2181.6 1563.0 2182.9 1564.4 2184.2 1566.3 2185.5 1568.5 2186.7 1571.0 2188.0 1573.6 2189.3 1576.2 2190.6 1578.7 2191.7 1581.0 2192.8 1583.5 2194.0 1586.2 2195.1 1588.8 2196.2 1591.3 2197.3 1593.6 2198.5 1595.4 2199.6 1596.7 2201.9 1598.6 2204.1 1600.4 2206.4 1601.9 2208.6 1603.2 2210.9 1604.2 2213.1 1604.8 2215.4 1605.0 2217.0 1604.5 2218.6 1603.0 2220.2 1600.8 2221.8 1598.2 2223.4 1595.2 2225.0 1592.2 2226.6 1589.3 2227.7 1587.3 2228.8 1584.9 2229.9 1582.4 2230.9 1579.8 2232.0 1577.3 2233.1 1574.8 2234.2 1572.6 2235.3 1570.7 2237.0 1567.9 2238.8 1565.0 2240.5 1562.2 2242.3 1559.8 2244.0 1557.8 2245.8 1556.5 2247.5 1556.0 2249.6 1556.3 2251.7 1557.2 2253.8 1558.5 2256.0 1560.2 2258.1 1562.3 2260.2 1564.6 2262.3 1567.0 2263.4 1568.6 2264.4 1570.7 2265.5 1573.3 2266.6 1576.1 2267.6 1578.9 2268.7 1581.6 2269.7 1584.1 2270.8 1586.1 2272.4 1588.8 2274.0 1591.5 2275.6 1594.1 2277.2 1596.5 2278.7 1598.6 2280.3 1600.3 2281.9 1601.4 2283.5 1601.8 2286.1 1601.5 2288.6 1600.6 2291.2 1599.2 2293.7 1597.5 2296.2 1595.6 2298.8 1593.6 2300.4 1592.1 2302.0 1590.1 2303.6 1587.9 2305.2 1585.4 2306.8 1583.0 2308.4 1580.7 2310.0 1578.7 2311.8 1576.5 2313.6 1574.2 2315.4 1571.8 2317.2 1569.5 2319.0 1567.3 2320.8 1565.3 2322.6 1563.5 2324.4 1562.2 2326.2 1561.3 2328.0 1561.0 2329.8 1561.3 2331.6 1562.2 2333.4 1563.6 2335.2 1565.5 2336.9 1567.6 2338.7 1569.9 2340.5 1572.4 2342.3 1574.9 2344.1 1577.4 2345.9 1579.7 2347.5 1581.8 2349.1 1584.1 2350.7 1586.5 2352.2 1589.0 2353.8 1591.4 2355.4 1593.8 2357.0 1596.1 2358.6 1598.2 2360.1 1600.3 2361.7 1602.3 2363.3 1604.3 2364.9 1606.3 2366.4 1608.2 2368.0 1610.0" fill="none" stroke="#0072BD" stroke-width="14.11" stroke-dasharray="10.56 8.93" stroke-linejoin="round" clip-path="url(#c1)"/>
<path d="M258.0 2337.8 1281.0 2337.8 1283.5 2337.0 1284.5 2333.0 1284.7 2331.3 1284.8 2328.7 1285.0 2325.6 1285.1 2322.5 1285.3 2320.0 1285.6 2316.7 1285.8 2313.9 1286.1 2311.3 1286.4 2308.7 1286.6 2306.0 1286.9 2303.0 1287.1 2300.8 1287.3 2298.6 1287.5 2296.4 1287.6 2294.2 1287.8 2291.9 1288.0 2289.5 1288.2 2287.0 1288.4 2284.4 1288.5 2281.7 1288.7 2278.7 1288.9 2275.6 1289.1 2272.3 1289.2 2270.4 1289.3 2268.4 1289.4 2266.2 1289.5 2263.9 1289.6 2261.4 1289.7 2258.8 1289.8 2256.2 1289.9 2253.4 1289.9 2250.7 1290.0 2247.8 1290.1 2245.0 1290.2 2242.1 1290.3 2239.2 1290.4 2236.4 1290.5 2233.5 1290.6 2230.8 1290.7 2228.1 1290.8 2225.5 1290.9 2222.9 1291.0 2220.3 1291.1 2217.8 1291.2 2215.4 1291.3 2212.9 1291.4 2210.4 1291.5 2207.9 1291.6 2205.2 1291.7 2202.4 1291.8 2199.4 1291.9 2196.2 1292.0 2194.2 1292.0 2192.1 1292.1 2189.8 1292.1 2187.4 1292.2 2185.0 1292.2 2182.4 1292.3 2179.8 1292.4 2177.1 1292.4 2174.4 1292.5 2171.7 1292.5 2168.9 1292.6 2166.1 1292.7 2163.4 1292.7 2160.6 1292.8 2158.0 1292.8 2155.3 1292.9 2152.8 1292.9 2150.3 1293.0 2147.9 1293.1 2145.3 1293.1 2142.7 1293.2 2140.2 1293.3 2137.7 1293.3 2135.3 1293.4 2132.9 1293.5 2130.5 1293.5 2128.1 1293.6 2125.6 1293.7 2123.1 1293.7 2120.5 1293.8 2117.9 1293.9 2115.5 1293.9 2113.1 1294.0 2110.6 1294.0 2108.1 1294.1 2105.5 1294.1 2102.9 1294.2 2100.3 1294.3 2097.7 1294.3 2095.0 1294.4 2092.4 1294.4 2089.7 1294.5 2087.1 1294.6 2084.5 1294.6 2081.9 1294.7 2079.3 1294.7 2076.8 1294.8 2074.3 1294.8 2071.9 1294.9 2069.5 1295.0 2066.9 1295.0 2064.3 1295.1 2061.8 1295.2 2059.3 1295.2 2056.9 1295.3 2054.5 1295.4 2052.1 1295.4 2049.7 1295.5 2047.2 1295.6 2044.7 1295.6 2042.1 1295.7 2039.5 1295.8 2037.0 1295.8 2034.5 1295.9 2032.0 1295.9 2029.4 1296.0 2026.8 1296.1 2024.1 1296.1 2021.4 1296.2 2018.7 1296.2 2016.0 1296.3 2013.3 1296.4 2010.6 1296.4 2007.9 1296.5 2005.3 1296.5 2002.6 1296.6 2000.0 1296.7 1997.5 1296.7 1994.9 1296.8 1992.4 1296.8 1989.9 1296.9 1987.4 1297.0 1984.8 1297.0 1982.3 1297.1 1979.8 1297.1 1977.3 1297.2 1974.8 1297.2 1972.3 1297.3 1969.9 1297.4 1967.4 1297.4 1964.9 1297.5 1962.4 1297.5 1959.9 1297.6 1957.4 1297.7 1954.7 1297.7 1952.0 1297.8 1949.3 1297.8 1946.5 1297.9 1943.8 1298.0 1941.0 1298.0 1938.3 1298.1 1935.5 1298.2 1932.8 1298.2 1930.1 1298.3 1927.5 1298.3 1924.9 1298.4 1922.4 1298.5 1920.0 1298.5 1917.6 1298.6 1915.3 1298.7 1912.4 1298.8 1909.6 1298.8 1906.9 1298.9 1904.3 1299.0 1901.8 1299.1 1899.3 1299.2 1896.9 1299.3 1894.4 1299.3 1891.9 1299.4 1889.4 1299.5 1886.9 1299.6 1884.2 1299.7 1881.8 1299.7 1879.3 1299.8 1876.9 1299.9 1874.3 1300.0 1871.8 1300.0 1869.2 1300.1 1866.7 1300.2 1864.1 1300.3 1861.5 1300.3 1858.9 1300.4 1856.3 1300.5 1853.8 1300.6 1851.2 1300.6 1848.7 1300.7 1846.2 1300.8 1843.7 1300.9 1841.3 1300.9 1838.9 1301.0 1836.6 1301.1 1833.8 1301.2 1831.0 1301.3 1828.2 1301.4 1825.5 1301.5 1822.8 1301.5 1820.1 1301.6 1817.5 1301.7 1814.9 1301.8 1812.3 1301.9 1809.8 1302.0 1807.3 1302.1 1804.6 1302.2 1801.9 1302.3 1799.3 1302.4 1796.6 1302.5 1794.0 1302.6 1791.4 1302.7 1788.9 1302.8 1786.4 1302.9 1783.8 1303.0 1781.4 1303.1 1778.9 1303.2 1776.4 1303.3 1774.0 1303.4 1771.6 1303.5 1769.1 1303.6 1766.7 1303.7 1764.4 1303.8 1762.0 1303.9 1759.6 1304.0 1756.8 1304.1 1754.1 1304.3 1751.3 1304.4 1748.6 1304.5 1745.9 1304.6 1743.3 1304.7 1740.6 1304.8 1738.0 1305.0 1735.4 1305.1 1732.8 1305.2 1730.3 1305.3 1727.6 1305.5 1724.8 1305.6 1722.1 1305.7 1719.4 1305.8 1716.6 1306.0 1713.9 1306.1 1711.1 1306.2 1708.4 1306.3 1705.8 1306.5 1703.1 1306.6 1700.5 1306.7 1697.9 1306.8 1695.4 1307.0 1693.0 1307.1 1690.6 1307.2 1688.3 1307.3 1686.0 1307.5 1683.9 1307.6 1681.8 1307.8 1678.6 1308.0 1675.6 1308.2 1672.6 1308.4 1669.8 1308.6 1667.0 1308.8 1664.3 1309.0 1661.8 1309.2 1659.3 1309.4 1656.9 1309.6 1654.7 1309.8 1652.5 1310.1 1649.5 1310.4 1646.6 1310.7 1643.9 1311.0 1641.3 1311.3 1638.8 1311.5 1636.3 1311.8 1634.0 1312.1 1631.7 1312.4 1629.4 1312.7 1627.2 1313.0 1625.0 1313.4 1622.1 1313.8 1619.2 1314.2 1616.3 1314.5 1613.6 1314.9 1610.9 1315.3 1608.4 1315.7 1606.1 1316.1 1604.0 1316.8 1600.8 1317.4 1597.8 1318.0 1595.0 1318.7 1592.4 1319.3 1590.1 1320.0 1588.0 1321.0 1584.8 1322.1 1581.9 1323.1 1579.2 1324.2 1577.1 1325.2 1575.6 1327.5 1573.4 1329.8 1571.7 1332.1 1570.5 1334.4 1570.1 1337.0 1570.1 1339.5 1570.2 1342.1 1570.3 1344.7 1570.5 1347.2 1570.7 1349.8 1570.9 1352.4 1571.1 1354.9 1571.4 1357.5 1571.7 1360.1 1572.0 1362.6 1572.4 1365.2 1572.7 1367.8 1573.0 1370.3 1573.4 1372.9 1573.7 1375.5 1574.1 1378.1 1574.5 1380.7 1575.0 1383.3 1575.5 1385.9 1576.1 1388.5 1576.7 1391.1 1577.2 1393.7 1577.8 1396.3 1578.3 1398.9 1578.8 1401.5 1579.2 1404.1 1579.6 1406.7 1580.0 1409.3 1580.4 1411.9 1580.8 1414.5 1581.2 1417.1 1581.6 1419.6 1582.0 1422.2 1582.3 1424.8 1582.6 1427.4 1582.9 1430.0 1583.0 1432.6 1583.2 1435.2 1583.2 1438.0 1582.9 1440.8 1582.2 1443.5 1581.4 1446.3 1580.7 1449.1 1580.4 1451.8 1580.4 1454.5 1580.3 1457.2 1580.3 1459.9 1580.3 1462.6 1580.3 1465.4 1580.3 1468.1 1580.3 1470.8 1580.3 1473.5 1580.2 1476.2 1580.2 1478.9 1580.2 1481.4 1580.2 1483.9 1580.1 1486.4 1580.0 1488.9 1580.0 1491.4 1579.9 1493.9 1579.7 1496.4 1579.6 1498.9 1579.5 1501.4 1579.4 1504.0 1579.3 1506.5 1579.2 1509.0 1579.0 1511.5 1578.9 1514.0 1578.8 1516.5 1578.8 1519.0 1578.7 1521.5 1578.6 1524.0 1578.6 1526.5 1578.6 1529.0 1578.6 1531.6 1578.6 1534.1 1578.6 1536.6 1578.6 1539.2 1578.7 1541.7 1578.7 1544.2 1578.7 1546.8 1578.7 1549.3 1578.8 1551.8 1578.8 1554.4 1578.8 1556.9 1578.9 1559.4 1578.9 1562.0 1578.9 1564.5 1579.0 1567.1 1579.0 1569.6 1579.0 1572.1 1579.1 1574.7 1579.1 1577.2 1579.1 1579.7 1579.2 1582.3 1579.2 1584.8 1579.2 1587.3 1579.2 1589.9 1579.3 1592.4 1579.3 1594.9 1579.3 1597.5 1579.3 1600.0 1579.3 2368.0 1579.3" fill="none" stroke="#000" stroke-width="7.41" stroke-dasharray="49.94 28.22" stroke-linejoin="round" clip-path="url(#c1)"/>
<path d="M258 1336H2368V2428.5H258ZM258 2428.5v-21.8M258 1336v21.8M469 2428.5v-21.8M469 1336v21.8M680 2428.5v-21.8M680 1336v21.8M891 2428.5v-21.8M891 1336v21.8M1102 2428.5v-21.8M1102 1336v21.8M1313 2428.5v-21.8M1313 1336v21.8M1524 2428.5v-21.8M1524 1336v21.8M1735 2428.5v-21.8M1735 1336v21.8M1946 2428.5v-21.8M1946 1336v21.8M2157 2428.5v-21.8M2157 1336v21.8M2368 2428.5v-21.8M2368 1336v21.8M258 2337.5h21.8M2368 2337.5h-21.8M258 2109.9h21.8M2368 2109.9h-21.8M258 1882.2h21.8M2368 1882.2h-21.8M258 1654.6h21.8M2368 1654.6h-21.8M258 1427h21.8M2368 1427h-21.8" fill="none" stroke="#262626" stroke-width="4.06" stroke-linecap="square"/>
<text x="228.1" y="2362.4" font-family="'Liberation Sans', Arial, Helvetica, sans-serif" font-size="63.4" fill="#262626" stroke="#262626" stroke-width="0.6" text-anchor="end">0</text>
<text x="228.1" y="2134.8" font-family="'Liberation Sans', Arial, Helvetica, sans-serif" font-size="63.4" fill="#262626" stroke="#262626" stroke-width="0.6" text-anchor="end">0.5</text>
<text x="228.1" y="1907.2" font-family="'Liberation Sans', Arial, Helvetica, sans-serif" font-size="63.4" fill="#262626" stroke="#262626" stroke-width="0.6" text-anchor="end">1</text>
<text x="228.1" y="1679.6" font-family="'Liberation Sans', Arial, Helvetica, sans-serif" font-size="63.4" fill="#262626" stroke="#262626" stroke-width="0.6" text-anchor="end">1.5</text>
<text x="228.1" y="1452" font-family="'Liberation Sans', Arial, Helvetica, sans-serif" font-size="63.4" fill="#262626" stroke="#262626" stroke-width="0.6" text-anchor="end">2</text>
<text x="255.5" y="2520.9" font-family="'Liberation Sans', Arial, Helvetica, sans-serif" font-size="63.4" fill="#262626" stroke="#262626" stroke-width="0.6" text-anchor="middle">0</text>
<text x="466.5" y="2520.9" font-family="'Liberation Sans', Arial, Helvetica, sans-serif" font-size="63.4" fill="#262626" stroke="#262626" stroke-width="0.6" text-anchor="middle">1</text>
<text x="677.5" y="2520.9" font-family="'Liberation Sans', Arial, Helvetica, sans-serif" font-size="63.4" fill="#262626" stroke="#262626" stroke-width="0.6" text-anchor="middle">2</text>
<text x="888.5" y="2520.9" font-family="'Liberation Sans', Arial, Helvetica, sans-serif" font-size="63.4" fill="#262626" stroke="#262626" stroke-width="0.6" text-anchor="middle">3</text>
<text x="1099.5" y="2520.9" font-family="'Liberation Sans', Arial, Helvetica, sans-serif" font-size="63.4" fill="#262626" stroke="#262626" stroke-width="0.6" text-anchor="middle">4</text>
<text x="1310.5" y="2520.9" font-family="'Liberation Sans', Arial, Helvetica, sans-serif" font-size="63.4" fill="#262626" stroke="#262626" stroke-width="0.6" text-anchor="middle">5</text>
<text x="1521.5" y="2520.9" font-family="'Liberation Sans', Arial, Helvetica, sans-serif" font-size="63.4" fill="#262626" stroke="#262626" stroke-width="0.6" text-anchor="middle">6</text>
<text x="1732.5" y="2520.9" font-family="'Liberation Sans', Arial, Helvetica, sans-serif" font-size="63.4" fill="#262626" stroke="#262626" stroke-width="0.6" text-anchor="middle">7</text>
<text x="1943.5" y="2520.9" font-family="'Liberation Sans', Arial, Helvetica, sans-serif" font-size="63.4" fill="#262626" stroke="#262626" stroke-width="0.6" text-anchor="middle">8</text>
<text x="2154.5" y="2520.9" font-family="'Liberation Sans', Arial, Helvetica, sans-serif" font-size="63.4" fill="#262626" stroke="#262626" stroke-width="0.6" text-anchor="middle">9</text>
<text x="2365.5" y="2520.9" font-family="'Liberation Sans', Arial, Helvetica, sans-serif" font-size="63.4" fill="#262626" stroke="#262626" stroke-width="0.6" text-anchor="middle">10</text>
<text x="1310.5" y="2620.3" font-family="'Liberation Sans', Arial, Helvetica, sans-serif" font-size="73.1" fill="#262626" stroke="#262626" stroke-width="0.6" text-anchor="middle">time</text>
<text transform="translate(98.7 1884.7) rotate(-90)" x="0" y="0" font-family="'Liberation Sans', Arial, Helvetica, sans-serif" font-size="73.1" fill="#262626" stroke="#262626" stroke-width="0.6" text-anchor="middle">U2</text>
<text x="405" y="1501.5" font-family="'Liberation Sans', Arial, Helvetica, sans-serif" font-size="91.4" font-weight="bold" fill="#000" stroke="#000" stroke-width="0.6">(b)</text>
<rect x="1614" y="2186" width="690.4" height="179.4" fill="#fff" stroke="#262626" stroke-width="3.65"/>
<path d="M1633 2234.9H1780.5" stroke="#0072BD" stroke-width="14.11" stroke-dasharray="10.56 8.93"/>
<path d="M1633 2316.4H1780.5" stroke="#000" stroke-width="7.41" stroke-dasharray="50.14 28.22"/>
<text x="1792.2" y="2258.2" font-family="'Liberation Sans', Arial, Helvetica, sans-serif" font-size="58.4" fill="#000" stroke="#000" stroke-width="0.6">LWS</text>
<text x="1792.2" y="2340.2" font-family="'Liberation Sans', Arial, Helvetica, sans-serif" font-size="58.4" fill="#000" stroke="#000" stroke-width="0.6">MTVDLFSuperbee</text>
<clipPath id="c2"><rect x="285" y="2644.4" width="2076" height="1068.4"/></clipPath>
<path d="M285.0 3650.2 1212.0 3650.2 1215.0 3650.1 1218.0 3649.9 1220.9 3649.6 1223.9 3649.2 1226.9 3648.8 1229.6 3648.3 1232.3 3647.8 1235.0 3647.0 1237.6 3646.2 1240.3 3645.2 1243.0 3644.2 1245.7 3643.0 1247.9 3641.9 1250.1 3640.5 1252.3 3638.9 1254.5 3637.1 1256.7 3635.2 1258.9 3633.2 1261.1 3631.1 1262.7 3629.5 1264.4 3627.9 1266.0 3626.1 1267.7 3624.3 1269.3 3622.3 1270.9 3620.2 1272.6 3618.0 1274.2 3615.7 1275.5 3613.7 1276.8 3611.5 1278.1 3609.2 1279.4 3606.8 1280.7 3604.2 1282.0 3601.4 1283.3 3598.6 1284.3 3596.4 1285.2 3594.0 1286.2 3591.5 1287.1 3588.9 1288.1 3586.3 1289.0 3583.5 1290.0 3580.7 1290.8 3578.3 1291.6 3575.9 1292.4 3573.4 1293.1 3570.9 1293.9 3568.2 1294.7 3565.5 1295.5 3562.7 1296.2 3560.2 1296.8 3557.6 1297.5 3554.8 1298.2 3552.1 1298.9 3549.3 1299.5 3546.5 1300.2 3543.9 1300.9 3541.4 1301.5 3539.0 1302.2 3536.7 1302.8 3534.3 1303.5 3531.9 1304.1 3529.4 1304.8 3526.8 1305.4 3524.3 1306.0 3521.8 1306.6 3519.1 1307.1 3516.4 1307.7 3513.6 1308.3 3510.8 1308.9 3508.0 1309.4 3505.4 1310.0 3502.9 1310.5 3500.3 1311.0 3497.6 1311.5 3494.9 1312.1 3492.1 1312.6 3489.2 1313.1 3486.6 1313.5 3483.9 1314.0 3481.1 1314.4 3478.2 1314.9 3475.3 1315.3 3472.5 1315.8 3469.6 1316.2 3466.9 1316.7 3464.3 1317.1 3461.7 1317.5 3459.0 1317.9 3456.3 1318.4 3453.6 1318.8 3450.8 1319.2 3448.1 1319.6 3445.3 1320.0 3442.5 1320.5 3439.6 1320.9 3436.8 1321.3 3433.9 1321.7 3431.1 1322.1 3428.6 1322.4 3426.0 1322.8 3423.5 1323.2 3421.0 1323.6 3418.4 1323.9 3415.8 1324.3 3413.2 1324.6 3410.7 1325.0 3408.2 1325.3 3405.7 1325.7 3403.2 1326.0 3400.6 1326.4 3397.9 1326.7 3395.2 1327.0 3392.5 1327.4 3389.8 1327.7 3387.0 1328.0 3384.2 1328.3 3381.3 1328.7 3378.5 1329.0 3375.6 1329.3 3373.0 1329.6 3370.3 1329.9 3367.7 1330.2 3365.0 1330.5 3362.3 1330.8 3359.5 1331.1 3356.8 1331.4 3354.2 1331.7 3351.5 1332.0 3348.8 1332.2 3346.2 1332.5 3343.5 1332.8 3340.7 1333.1 3338.0 1333.4 3335.2 1333.7 3332.4 1334.0 3329.6 1334.2 3326.8 1334.5 3324.0 1334.8 3321.2 1335.1 3318.4 1335.4 3315.7 1335.7 3312.9 1336.0 3310.2 1336.2 3307.4 1336.5 3304.8 1336.8 3302.1 1337.1 3299.6 1337.4 3296.8 1337.8 3294.0 1338.1 3291.3 1338.4 3288.7 1338.7 3286.0 1339.1 3283.4 1339.4 3280.8 1339.8 3278.0 1340.1 3275.2 1340.5 3272.5 1340.8 3269.7 1341.2 3266.9 1341.5 3264.1 1341.9 3261.1 1342.2 3258.5 1342.5 3255.9 1342.8 3253.2 1343.1 3250.5 1343.4 3247.7 1343.7 3244.9 1344.0 3242.0 1344.3 3239.4 1344.5 3236.7 1344.8 3234.0 1345.1 3231.3 1345.4 3228.5 1345.6 3225.7 1345.9 3222.8 1346.1 3220.2 1346.4 3217.5 1346.6 3214.7 1346.9 3212.0 1347.1 3209.2 1347.4 3206.4 1347.6 3203.6 1347.8 3201.0 1348.1 3198.4 1348.3 3195.7 1348.5 3193.1 1348.7 3190.5 1349.0 3187.9 1349.2 3185.3 1349.4 3182.6 1349.7 3180.0 1349.9 3177.4 1350.2 3174.8 1350.4 3172.2 1350.7 3169.6 1350.9 3166.9 1351.1 3164.5 1351.3 3162.0 1351.5 3159.4 1351.8 3156.9 1352.0 3154.4 1352.2 3151.8 1352.4 3149.3 1352.6 3146.9 1352.8 3144.2 1353.1 3141.5 1353.3 3138.8 1353.6 3136.2 1353.8 3133.6 1354.1 3131.1 1354.3 3128.5 1354.6 3125.8 1354.8 3123.2 1355.1 3120.5 1355.3 3117.9 1355.6 3115.3 1355.8 3112.8 1356.1 3110.2 1356.4 3107.4 1356.7 3104.7 1357.0 3102.0 1357.2 3099.3 1357.5 3096.6 1357.8 3093.8 1358.1 3091.0 1358.4 3088.4 1358.6 3085.6 1358.9 3082.9 1359.1 3080.1 1359.4 3077.3 1359.6 3074.5 1359.9 3071.8 1360.2 3069.1 1360.4 3066.5 1360.7 3063.9 1360.9 3061.3 1361.2 3058.7 1361.4 3056.1 1361.7 3053.5 1362.0 3050.7 1362.2 3048.0 1362.5 3045.2 1362.8 3042.5 1363.1 3039.7 1363.3 3037.0 1363.6 3034.3 1363.9 3031.5 1364.2 3028.7 1364.5 3026.0 1364.7 3023.2 1365.0 3020.5 1365.3 3017.8 1365.6 3015.1 1365.9 3012.3 1366.2 3009.6 1366.5 3006.9 1366.8 3004.2 1367.1 3001.4 1367.4 2998.7 1367.7 2995.9 1368.0 2993.3 1368.2 2990.7 1368.5 2988.1 1368.8 2985.5 1369.1 2982.9 1369.3 2980.2 1369.6 2977.6 1369.9 2974.9 1370.2 2972.1 1370.5 2969.4 1370.7 2966.6 1371.0 2963.9 1371.3 2961.1 1371.6 2958.4 1371.9 2955.6 1372.2 2952.9 1372.5 2950.1 1372.7 2947.4 1373.0 2944.6 1373.3 2941.9 1373.6 2939.2 1373.9 2936.6 1374.2 2934.0 1374.5 2931.4 1374.7 2928.8 1375.0 2926.2 1375.3 2923.6 1375.6 2920.9 1375.8 2918.5 1376.1 2916.0 1376.3 2913.5 1376.6 2911.0 1376.8 2908.5 1377.1 2906.0 1377.3 2903.4 1377.6 2900.9 1377.9 2898.3 1378.1 2895.6 1378.4 2893.0 1378.6 2890.3 1378.9 2887.7 1379.1 2885.1 1379.4 2882.5 1379.7 2879.7 1380.0 2876.9 1380.3 2874.1 1380.5 2871.3 1380.8 2868.6 1381.1 2866.0 1381.4 2863.5 1381.7 2860.6 1382.1 2857.8 1382.4 2855.0 1382.8 2852.4 1383.1 2849.8 1383.5 2847.2 1383.8 2844.7 1384.2 2841.8 1384.6 2839.1 1385.0 2836.4 1385.4 2833.7 1385.8 2831.1 1386.2 2828.5 1386.6 2825.8 1387.0 2823.1 1387.4 2820.5 1387.8 2817.8 1388.2 2815.2 1388.6 2812.5 1389.0 2809.8 1389.4 2807.0 1389.8 2804.3 1390.1 2801.6 1390.5 2798.8 1390.9 2796.0 1391.3 2793.2 1391.6 2790.6 1392.0 2788.1 1392.5 2785.2 1392.9 2782.3 1393.4 2779.6 1393.9 2777.0 1394.4 2774.4 1394.8 2771.9 1395.3 2769.3 1395.8 2766.5 1396.3 2763.6 1396.8 2760.8 1397.4 2758.0 1397.9 2755.3 1398.4 2752.8 1398.9 2750.4 1399.6 2747.2 1400.4 2744.2 1401.1 2741.2 1401.8 2738.4 1402.5 2735.9 1403.3 2733.6 1404.0 2731.6 1405.4 2728.2 1406.7 2724.8 1408.1 2721.7 1409.5 2718.9 1410.9 2716.8 1412.2 2715.3 1413.6 2714.8 1415.4 2715.3 1417.2 2716.6 1419.0 2718.6 1420.9 2721.2 1422.7 2724.2 1424.5 2727.6 1425.2 2729.3 1425.9 2731.5 1426.6 2734.2 1427.3 2737.1 1428.0 2740.3 1428.7 2743.4 1429.4 2746.5 1430.0 2749.0 1430.5 2751.6 1431.1 2754.2 1431.7 2757.0 1432.3 2759.7 1432.8 2762.5 1433.4 2765.3 1433.9 2767.9 1434.5 2770.5 1435.0 2773.2 1435.6 2775.8 1436.1 2778.5 1436.7 2781.3 1437.2 2784.2 1437.7 2786.7 1438.1 2789.3 1438.6 2791.9 1439.0 2794.6 1439.5 2797.4 1439.9 2800.2 1440.4 2803.0 1440.8 2805.6 1441.2 2808.3 1441.6 2811.0 1442.1 2813.7 1442.5 2816.5 1442.9 2819.2 1443.3 2821.9 1443.7 2824.6 1444.1 2827.2 1444.5 2829.9 1445.0 2832.5 1445.4 2835.2 1445.8 2837.9 1446.2 2840.7 1446.6 2843.3 1447.0 2846.0 1447.4 2848.7 1447.7 2851.4 1448.1 2854.1 1448.5 2856.9 1448.9 2859.6 1449.3 2862.3 1449.6 2865.0 1450.0 2867.7 1450.4 2870.5 1450.8 2873.2 1451.1 2875.8 1451.5 2878.4 1451.9 2881.1 1452.3 2883.6 1452.7 2886.2 1453.1 2888.7 1453.5 2891.2 1453.9 2893.7 1454.3 2896.3 1454.7 2898.7 1455.0 2901.2 1455.4 2903.7 1455.8 2906.2 1456.1 2908.7 1456.5 2911.2 1456.8 2913.7 1457.2 2916.1 1457.6 2918.9 1458.1 2921.6 1458.5 2924.3 1458.9 2927.0 1459.3 2929.7 1459.8 2932.3 1460.2 2935.0 1460.6 2937.7 1461.1 2940.4 1461.5 2943.1 1461.9 2945.8 1462.3 2948.5 1462.8 2951.2 1463.2 2953.8 1463.7 2956.6 1464.1 2959.4 1464.6 2962.2 1465.0 2964.9 1465.5 2967.6 1465.9 2970.2 1466.4 2972.7 1466.9 2975.5 1467.5 2978.2 1468.0 2980.8 1468.5 2983.3 1469.0 2985.8 1469.6 2988.2 1470.1 2990.5 1470.8 2993.5 1471.5 2996.4 1472.2 2999.3 1472.9 3002.0 1473.6 3004.6 1474.3 3007.1 1475.0 3009.4 1475.9 3012.4 1476.8 3015.5 1477.7 3018.6 1478.6 3021.7 1479.4 3024.5 1480.3 3026.9 1481.2 3028.8 1482.1 3030.1 1483.0 3030.5 1485.3 3030.4 1487.6 3029.9 1490.0 3029.2 1492.3 3028.0 1494.6 3026.3 1496.9 3024.2 1497.3 3023.1 1497.8 3021.0 1498.2 3018.1 1498.6 3014.7 1499.0 3011.3 1499.5 3008.1 1499.9 3005.4 1500.5 3002.4 1501.1 2999.6 1501.7 2997.0 1502.2 2994.4 1502.8 2991.9 1503.4 2989.3 1504.0 2986.5 1504.5 2984.0 1505.0 2981.4 1505.5 2978.7 1506.1 2976.0 1506.6 2973.3 1507.1 2970.5 1507.6 2967.7 1508.1 2965.1 1508.5 2962.4 1509.0 2959.7 1509.4 2956.9 1509.9 2954.2 1510.3 2951.5 1510.8 2948.8 1511.3 2946.2 1511.7 2943.7 1512.2 2941.1 1512.6 2938.6 1513.1 2936.1 1513.5 2933.6 1514.0 2931.0 1514.4 2928.6 1514.8 2926.1 1515.3 2923.6 1515.7 2921.1 1516.1 2918.6 1516.6 2916.1 1517.0 2913.6 1517.4 2911.2 1517.9 2908.4 1518.4 2905.6 1518.9 2902.9 1519.4 2900.2 1519.9 2897.5 1520.4 2894.9 1520.9 2892.3 1521.4 2889.5 1522.0 2886.8 1522.5 2884.1 1523.1 2881.4 1523.6 2878.8 1524.2 2876.2 1524.7 2873.5 1525.3 2870.8 1525.8 2868.0 1526.4 2865.3 1526.9 2862.6 1527.5 2859.9 1528.0 2857.2 1528.6 2854.6 1529.2 2851.8 1529.8 2848.9 1530.4 2846.1 1531.0 2843.4 1531.6 2840.7 1532.2 2838.2 1532.8 2835.8 1533.5 2833.0 1534.3 2830.1 1535.0 2827.4 1535.8 2824.9 1536.5 2822.5 1537.3 2820.5 1538.0 2818.9 1539.8 2815.7 1541.5 2812.6 1543.2 2810.0 1545.0 2807.9 1546.8 2806.5 1548.5 2806.0 1549.9 2806.5 1551.3 2807.9 1552.7 2810.1 1554.2 2812.8 1555.6 2816.0 1557.0 2819.4 1558.4 2822.9 1559.1 2824.8 1559.8 2827.2 1560.5 2829.8 1561.1 2832.7 1561.8 2835.7 1562.5 2838.7 1563.2 2841.7 1563.8 2844.2 1564.4 2846.8 1565.0 2849.5 1565.5 2852.2 1566.1 2855.0 1566.7 2857.8 1567.3 2860.6 1567.8 2863.2 1568.4 2865.9 1568.9 2868.6 1569.5 2871.3 1570.0 2874.0 1570.6 2876.7 1571.1 2879.4 1571.6 2881.9 1572.1 2884.5 1572.6 2887.0 1573.2 2889.6 1573.7 2892.2 1574.2 2894.7 1574.7 2897.3 1575.2 2900.0 1575.8 2902.7 1576.3 2905.4 1576.8 2908.1 1577.3 2910.8 1577.9 2913.5 1578.4 2916.1 1579.0 2918.9 1579.5 2921.6 1580.1 2924.3 1580.6 2927.0 1581.2 2929.7 1581.7 2932.4 1582.3 2935.0 1582.9 2937.8 1583.5 2940.6 1584.1 2943.4 1584.6 2946.1 1585.2 2948.8 1585.8 2951.4 1586.4 2953.8 1587.1 2956.7 1587.9 2959.7 1588.6 2962.6 1589.3 2965.3 1590.0 2967.8 1590.8 2969.9 1591.5 2971.7 1593.0 2974.9 1594.5 2977.9 1596.0 2980.6 1597.6 2983.0 1599.1 2984.9 1600.6 2986.1 1602.1 2986.5 1603.7 2986.1 1605.2 2984.9 1606.8 2983.1 1608.3 2980.7 1609.9 2978.0 1611.4 2974.9 1613.0 2971.7 1613.7 2970.0 1614.4 2967.8 1615.1 2965.3 1615.8 2962.6 1616.5 2959.7 1617.2 2956.7 1617.9 2953.8 1618.5 2951.4 1619.0 2948.8 1619.6 2946.1 1620.2 2943.3 1620.8 2940.5 1621.3 2937.7 1621.9 2935.0 1622.5 2932.3 1623.0 2929.6 1623.6 2926.9 1624.2 2924.2 1624.8 2921.5 1625.3 2918.8 1625.9 2916.1 1626.5 2913.4 1627.0 2910.7 1627.6 2908.0 1628.1 2905.3 1628.7 2902.6 1629.2 2899.9 1629.8 2897.3 1630.4 2894.6 1630.9 2892.0 1631.5 2889.4 1632.1 2886.8 1632.7 2884.3 1633.2 2881.8 1633.8 2879.4 1634.5 2876.5 1635.2 2873.7 1635.9 2870.9 1636.7 2868.2 1637.4 2865.6 1638.1 2863.1 1638.8 2860.6 1639.7 2857.4 1640.6 2854.1 1641.5 2850.9 1642.4 2848.1 1643.3 2845.7 1644.2 2844.0 1646.4 2841.1 1648.6 2838.8 1650.8 2837.2 1653.0 2836.6 1654.6 2837.0 1656.2 2838.2 1657.8 2840.0 1659.4 2842.3 1661.0 2845.1 1662.6 2848.2 1664.2 2851.6 1665.8 2855.0 1666.5 2856.9 1667.3 2859.1 1668.0 2861.7 1668.8 2864.6 1669.5 2867.5 1670.3 2870.4 1671.0 2873.3 1671.7 2875.9 1672.3 2878.5 1673.0 2881.2 1673.7 2883.9 1674.4 2886.6 1675.0 2889.4 1675.7 2892.1 1676.4 2894.8 1677.0 2897.5 1677.7 2900.2 1678.3 2902.9 1679.0 2905.6 1679.6 2908.3 1680.3 2911.0 1680.9 2913.6 1681.6 2916.2 1682.2 2918.9 1682.9 2921.5 1683.5 2924.1 1684.2 2926.6 1684.8 2929.2 1685.5 2932.0 1686.2 2934.8 1686.9 2937.6 1687.5 2940.4 1688.2 2943.0 1688.9 2945.5 1689.6 2947.7 1690.6 2950.8 1691.6 2954.0 1692.6 2957.1 1693.5 2960.1 1694.5 2962.6 1695.5 2964.7 1696.5 2966.0 1697.5 2966.5 1699.8 2966.3 1702.1 2965.6 1704.5 2964.5 1706.8 2962.9 1709.1 2960.9 1711.4 2958.6 1712.2 2957.3 1712.9 2955.1 1713.7 2952.3 1714.5 2949.1 1715.3 2945.8 1716.0 2942.6 1716.8 2939.7 1717.5 2937.1 1718.3 2934.6 1719.0 2932.1 1719.8 2929.6 1720.5 2927.1 1721.3 2924.5 1722.0 2921.9 1722.7 2919.4 1723.4 2916.9 1724.1 2914.4 1724.8 2911.8 1725.5 2909.3 1726.2 2906.7 1726.9 2904.0 1727.6 2901.4 1728.2 2898.7 1728.9 2895.9 1729.6 2893.1 1730.3 2890.4 1730.9 2887.7 1731.6 2885.2 1732.4 2882.2 1733.2 2879.2 1734.0 2876.3 1734.8 2873.4 1735.6 2870.8 1736.4 2868.4 1737.2 2866.3 1738.6 2862.9 1740.0 2859.6 1741.4 2856.5 1742.9 2853.7 1744.3 2851.5 1745.7 2850.0 1747.1 2849.5 1749.1 2849.8 1751.1 2850.8 1753.0 2852.3 1755.0 2854.3 1757.0 2856.7 1759.0 2859.4 1759.8 2861.0 1760.7 2863.2 1761.5 2865.9 1762.3 2869.0 1763.1 2872.2 1764.0 2875.3 1764.8 2878.2 1765.6 2880.9 1766.4 2883.5 1767.2 2886.2 1768.0 2888.9 1768.8 2891.7 1769.6 2894.4 1770.4 2897.1 1771.1 2899.6 1771.9 2902.2 1772.6 2904.8 1773.4 2907.4 1774.1 2909.9 1774.9 2912.4 1775.6 2914.9 1776.4 2917.7 1777.3 2920.5 1778.1 2923.3 1778.9 2926.1 1779.7 2928.6 1780.6 2930.9 1781.4 2932.8 1782.9 2935.8 1784.4 2938.8 1785.9 2941.7 1787.4 2944.4 1788.8 2946.7 1790.3 2948.7 1791.8 2950.3 1793.3 2951.3 1794.8 2951.6 1796.4 2951.3 1798.1 2950.3 1799.7 2948.8 1801.4 2946.8 1803.0 2944.3 1804.7 2941.6 1806.3 2938.5 1808.0 2935.2 1809.6 2931.8 1810.3 2930.0 1811.0 2927.8 1811.7 2925.2 1812.5 2922.4 1813.2 2919.5 1813.9 2916.6 1814.6 2913.9 1815.3 2911.2 1816.0 2908.5 1816.7 2905.7 1817.5 2902.9 1818.2 2900.2 1818.9 2897.6 1819.6 2895.1 1820.4 2892.3 1821.3 2889.5 1822.1 2886.9 1823.0 2884.3 1823.8 2881.8 1824.7 2879.4 1825.5 2877.2 1826.6 2874.0 1827.8 2870.7 1828.9 2867.3 1830.1 2864.2 1831.2 2861.7 1832.4 2860.0 1833.5 2859.4 1835.6 2859.7 1837.7 2860.6 1839.8 2862.0 1842.0 2863.8 1844.1 2866.0 1846.2 2868.4 1848.3 2871.0 1849.3 2872.6 1850.3 2874.6 1851.3 2877.1 1852.3 2879.7 1853.3 2882.6 1854.3 2885.3 1855.3 2888.0 1856.2 2890.3 1857.1 2892.7 1858.0 2895.0 1859.0 2897.5 1859.9 2899.9 1860.8 2902.4 1861.7 2905.0 1862.5 2907.3 1863.3 2909.7 1864.1 2912.2 1864.8 2914.6 1865.6 2917.1 1866.4 2919.5 1867.2 2921.9 1868.1 2924.6 1868.9 2927.5 1869.8 2930.4 1870.7 2933.2 1871.6 2935.7 1872.4 2937.7 1873.3 2939.0 1875.6 2941.4 1877.9 2943.5 1880.2 2945.2 1882.4 2946.5 1884.7 2947.3 1887.0 2947.6 1888.2 2947.1 1889.5 2945.8 1890.8 2943.7 1892.0 2941.2 1893.2 2938.2 1894.5 2935.1 1895.8 2931.9 1897.0 2928.8 1897.8 2926.7 1898.7 2924.3 1899.5 2921.8 1900.4 2919.1 1901.2 2916.4 1902.1 2913.7 1902.9 2911.0 1903.7 2908.3 1904.6 2905.6 1905.4 2902.8 1906.3 2900.0 1907.1 2897.2 1908.0 2894.6 1908.8 2892.1 1909.8 2889.2 1910.8 2886.1 1911.8 2883.1 1912.8 2880.3 1913.8 2877.8 1914.8 2875.7 1915.8 2874.2 1917.9 2871.8 1920.0 2869.6 1922.2 2867.7 1924.3 2866.3 1926.4 2865.3 1928.5 2865.0 1929.9 2865.6 1931.3 2867.1 1932.7 2869.4 1934.1 2872.2 1935.5 2875.4 1936.9 2878.7 1938.3 2881.9 1939.2 2884.1 1940.1 2886.5 1941.0 2889.1 1941.9 2891.9 1942.8 2894.7 1943.7 2897.5 1944.6 2900.2 1945.5 2902.9 1946.4 2905.7 1947.3 2908.6 1948.3 2911.3 1949.2 2914.0 1950.1 2916.3 1951.0 2918.4 1952.5 2921.5 1954.0 2924.7 1955.5 2927.7 1957.0 2930.7 1958.5 2933.4 1960.0 2935.9 1961.5 2937.9 1963.0 2939.5 1964.5 2940.4 1966.0 2940.8 1967.8 2940.4 1969.5 2939.4 1971.3 2937.8 1973.1 2935.8 1974.8 2933.4 1976.6 2930.6 1978.4 2927.7 1980.1 2924.7 1981.9 2921.6 1982.8 2919.8 1983.8 2917.7 1984.7 2915.4 1985.6 2912.9 1986.5 2910.3 1987.5 2907.6 1988.4 2905.0 1989.3 2902.5 1990.2 2900.1 1991.0 2897.6 1991.9 2895.1 1992.8 2892.5 1993.7 2890.1 1994.5 2887.9 1995.4 2885.9 1996.8 2882.9 1998.1 2879.8 1999.5 2876.8 2000.8 2874.1 2002.2 2871.9 2003.5 2870.4 2004.9 2869.9 2006.9 2870.2 2009.0 2871.2 2011.0 2872.7 2013.1 2874.6 2015.1 2876.9 2017.2 2879.4 2019.2 2882.0 2020.2 2883.6 2021.2 2885.6 2022.2 2888.0 2023.3 2890.5 2024.3 2893.2 2025.3 2896.0 2026.3 2898.6 2027.2 2901.1 2028.1 2903.7 2029.0 2906.5 2030.0 2909.3 2030.9 2911.8 2031.8 2914.1 2032.7 2916.0 2034.5 2919.1 2036.2 2922.2 2038.0 2925.1 2039.8 2927.9 2041.5 2930.3 2043.3 2932.3 2045.1 2933.9 2046.8 2934.9 2048.6 2935.2 2050.4 2934.8 2052.1 2933.8 2053.9 2932.2 2055.6 2930.1 2057.4 2927.7 2059.1 2924.9 2060.9 2922.0 2062.6 2919.0 2064.4 2916.0 2065.4 2914.1 2066.4 2911.8 2067.4 2909.3 2068.4 2906.6 2069.4 2903.9 2070.4 2901.1 2071.4 2898.6 2072.4 2896.2 2073.6 2893.5 2074.8 2890.8 2075.9 2888.2 2077.1 2885.8 2078.3 2883.7 2079.5 2882.0 2081.7 2879.4 2083.9 2877.0 2086.1 2875.3 2088.3 2874.6 2090.1 2874.9 2091.8 2875.9 2093.6 2877.4 2095.3 2879.4 2097.1 2881.7 2098.8 2884.3 2100.6 2887.1 2102.3 2890.0 2104.1 2893.0 2105.1 2895.0 2106.2 2897.6 2107.2 2900.4 2108.2 2903.4 2109.2 2906.3 2110.3 2909.0 2111.3 2911.3 2112.8 2914.3 2114.3 2917.3 2115.8 2920.4 2117.3 2923.3 2118.8 2926.1 2120.3 2928.5 2121.8 2930.6 2123.3 2932.2 2124.8 2933.2 2126.3 2933.6 2128.1 2933.3 2129.8 2932.5 2131.6 2931.3 2133.3 2929.7 2135.1 2927.7 2136.8 2925.5 2138.6 2923.1 2140.3 2920.5 2142.1 2917.9 2143.8 2915.2 2144.9 2913.2 2146.1 2910.6 2147.2 2907.7 2148.3 2904.7 2149.4 2901.8 2150.6 2899.1 2151.7 2897.0 2153.3 2894.3 2155.0 2891.7 2156.6 2889.0 2158.2 2886.5 2159.8 2884.2 2161.5 2882.2 2163.1 2880.5 2164.7 2879.1 2166.4 2878.3 2168.0 2878.0 2169.6 2878.4 2171.3 2879.3 2172.9 2880.9 2174.6 2882.9 2176.2 2885.2 2177.8 2887.8 2179.5 2890.6 2181.1 2893.5 2182.8 2896.3 2184.4 2899.0 2185.7 2901.2 2186.9 2903.6 2188.2 2906.3 2189.4 2909.0 2190.7 2911.7 2191.9 2914.2 2193.2 2916.5 2194.7 2919.2 2196.1 2922.1 2197.6 2924.9 2199.1 2927.6 2200.6 2929.7 2202.0 2931.2 2203.5 2931.7 2205.7 2931.4 2207.8 2930.7 2210.0 2929.5 2212.1 2928.0 2214.3 2926.2 2216.4 2924.2 2218.6 2922.1 2219.8 2920.5 2221.1 2918.4 2222.3 2915.8 2223.6 2913.0 2224.8 2910.1 2226.1 2907.2 2227.3 2904.6 2228.6 2901.8 2229.9 2898.8 2231.2 2895.8 2232.6 2893.0 2233.9 2890.7 2235.2 2889.0 2237.5 2886.9 2239.7 2885.0 2242.0 2883.3 2244.3 2881.9 2246.6 2880.8 2248.8 2880.1 2251.1 2879.9 2252.5 2880.5 2253.8 2882.2 2255.2 2884.6 2256.5 2887.6 2257.9 2890.8 2259.2 2893.9 2260.6 2896.7 2261.9 2899.1 2263.1 2901.7 2264.4 2904.3 2265.6 2906.9 2266.9 2909.4 2268.1 2911.9 2269.4 2914.1 2270.9 2916.8 2272.3 2919.7 2273.8 2922.5 2275.3 2925.2 2276.8 2927.3 2278.2 2928.8 2279.7 2929.3 2282.0 2929.0 2284.2 2928.2 2286.5 2926.9 2288.8 2925.2 2291.1 2923.2 2293.3 2921.0 2295.6 2918.5 2296.7 2916.9 2297.7 2914.7 2298.8 2912.0 2299.8 2909.2 2300.9 2906.4 2301.9 2903.9 2303.0 2902.0 2304.8 2899.3 2306.7 2896.5 2308.5 2893.9 2310.3 2891.4 2312.2 2889.1 2314.0 2887.1 2315.8 2885.4 2317.6 2884.1 2319.5 2883.3 2321.3 2883.0 2323.0 2883.3 2324.7 2884.2 2326.4 2885.5 2328.1 2887.2 2329.9 2889.2 2331.6 2891.5 2333.3 2893.9 2335.0 2896.4 2336.7 2899.0 2338.4 2901.4 2339.8 2903.6 2341.1 2906.1 2342.5 2909.0 2343.8 2911.8 2345.2 2914.6 2346.5 2917.0 2347.9 2918.9 2350.1 2921.4 2352.3 2923.8 2354.4 2925.9 2356.6 2927.7 2358.8 2929.1 2361.0 2930.0" fill="none" stroke="#0072BD" stroke-width="13.90" stroke-dasharray="10.40 8.80" stroke-linejoin="round" clip-path="url(#c2)"/>
<path d="M285.0 3649.9 1293.0 3649.9 1297.5 3648.0 1298.5 3646.5 1299.5 3643.0 1299.7 3641.8 1299.8 3639.7 1300.0 3637.0 1300.1 3633.7 1300.2 3630.0 1300.4 3626.0 1300.5 3624.2 1300.5 3622.1 1300.6 3619.7 1300.6 3617.2 1300.7 3614.4 1300.8 3611.6 1300.8 3608.7 1300.9 3605.7 1300.9 3602.8 1301.0 3600.0 1301.0 3597.7 1301.1 3595.3 1301.2 3593.0 1301.2 3590.5 1301.2 3588.1 1301.3 3585.7 1301.3 3583.2 1301.4 3580.7 1301.5 3578.2 1301.5 3575.7 1301.5 3573.1 1301.6 3570.6 1301.7 3568.0 1301.7 3565.5 1301.8 3562.9 1301.8 3560.3 1301.9 3557.8 1301.9 3555.2 1302.0 3552.7 1302.0 3550.1 1302.0 3547.6 1302.1 3545.0 1302.2 3542.5 1302.2 3540.0 1302.2 3537.5 1302.3 3535.0 1302.4 3532.5 1302.4 3530.0 1302.5 3527.5 1302.5 3525.0 1302.5 3522.5 1302.6 3520.0 1302.7 3517.5 1302.7 3515.0 1302.8 3512.5 1302.8 3510.0 1302.9 3507.5 1302.9 3505.0 1303.0 3502.5 1303.0 3500.0 1303.1 3497.5 1303.1 3495.0 1303.2 3492.5 1303.2 3490.0 1303.2 3487.5 1303.3 3485.0 1303.4 3482.5 1303.4 3480.0 1303.5 3477.5 1303.5 3475.0 1303.6 3472.5 1303.6 3470.0 1303.7 3467.5 1303.7 3465.0 1303.8 3462.5 1303.8 3460.0 1303.8 3457.5 1303.9 3455.0 1304.0 3452.5 1304.0 3450.0 1304.0 3447.5 1304.1 3445.0 1304.2 3442.5 1304.2 3440.0 1304.2 3437.5 1304.3 3435.0 1304.3 3432.5 1304.4 3430.0 1304.4 3427.5 1304.5 3425.0 1304.5 3422.5 1304.6 3420.0 1304.6 3417.5 1304.7 3415.0 1304.8 3412.5 1304.8 3410.0 1304.8 3407.5 1304.9 3405.0 1304.9 3402.5 1305.0 3400.0 1305.0 3397.5 1305.1 3395.0 1305.1 3392.5 1305.2 3390.0 1305.2 3387.5 1305.3 3385.0 1305.3 3382.5 1305.4 3380.0 1305.5 3377.5 1305.5 3375.0 1305.5 3372.5 1305.6 3370.0 1305.6 3367.5 1305.7 3365.0 1305.8 3362.5 1305.8 3360.0 1305.8 3357.5 1305.9 3355.0 1306.0 3352.4 1306.0 3349.9 1306.0 3347.3 1306.1 3344.8 1306.1 3342.2 1306.2 3339.7 1306.2 3337.1 1306.3 3334.5 1306.3 3332.0 1306.4 3329.4 1306.5 3326.9 1306.5 3324.4 1306.5 3321.8 1306.6 3319.3 1306.7 3316.8 1306.7 3314.4 1306.8 3311.9 1306.8 3309.5 1306.8 3307.1 1306.9 3304.7 1307.0 3302.3 1307.0 3300.0 1307.1 3297.3 1307.1 3294.6 1307.2 3292.0 1307.2 3289.4 1307.3 3286.7 1307.3 3284.1 1307.4 3281.6 1307.5 3279.0 1307.5 3276.5 1307.6 3273.9 1307.6 3271.4 1307.7 3268.9 1307.8 3266.4 1307.8 3264.0 1307.9 3261.5 1307.9 3259.1 1308.0 3256.6 1308.1 3254.2 1308.1 3251.8 1308.2 3249.4 1308.2 3247.1 1308.3 3244.7 1308.3 3242.3 1308.4 3240.0 1308.5 3237.3 1308.5 3234.7 1308.6 3232.1 1308.7 3229.6 1308.7 3227.0 1308.8 3224.5 1308.9 3222.0 1308.9 3219.5 1309.0 3217.1 1309.1 3214.6 1309.1 3212.2 1309.2 3209.7 1309.3 3207.3 1309.3 3204.9 1309.4 3202.4 1309.5 3200.0 1309.5 3197.5 1309.6 3195.1 1309.7 3192.6 1309.7 3190.1 1309.8 3187.6 1309.9 3185.1 1309.9 3182.6 1310.0 3180.0 1310.1 3177.6 1310.1 3175.1 1310.2 3172.6 1310.2 3170.0 1310.3 3167.5 1310.4 3164.9 1310.4 3162.3 1310.5 3159.7 1310.6 3157.1 1310.6 3154.4 1310.7 3151.8 1310.8 3149.2 1310.8 3146.6 1310.9 3144.0 1310.9 3141.5 1311.0 3138.9 1311.1 3136.4 1311.1 3133.9 1311.2 3131.5 1311.2 3129.1 1311.3 3126.7 1311.4 3124.4 1311.4 3122.2 1311.5 3120.0 1311.6 3117.1 1311.7 3114.3 1311.8 3111.5 1311.8 3108.8 1311.9 3106.1 1312.0 3103.4 1312.1 3100.7 1312.2 3098.1 1312.2 3095.5 1312.3 3092.9 1312.4 3090.4 1312.5 3087.9 1312.6 3085.4 1312.7 3083.0 1312.8 3080.6 1312.8 3078.2 1312.9 3075.8 1313.0 3073.5 1313.1 3071.2 1313.2 3068.9 1313.2 3066.6 1313.3 3064.4 1313.4 3062.2 1313.5 3060.0 1313.6 3057.1 1313.7 3054.3 1313.8 3051.5 1313.9 3048.8 1314.0 3046.0 1314.2 3043.3 1314.3 3040.7 1314.4 3038.0 1314.5 3035.4 1314.6 3032.9 1314.7 3030.3 1314.8 3027.8 1314.9 3025.4 1315.0 3022.9 1315.1 3020.5 1315.3 3018.1 1315.4 3015.8 1315.5 3013.5 1315.6 3011.2 1315.7 3009.0 1315.8 3006.8 1315.9 3004.0 1316.1 3001.3 1316.2 2998.7 1316.4 2996.2 1316.5 2993.7 1316.7 2991.2 1316.8 2988.8 1317.0 2986.3 1317.1 2983.7 1317.3 2981.1 1317.4 2978.4 1317.5 2975.6 1317.7 2972.6 1317.8 2969.5 1317.9 2966.6 1318.1 2964.0 1318.2 2962.0 1318.5 2958.2 1318.9 2955.3 1319.2 2953.5 1321.6 2949.5 1323.7 2947.1 1325.8 2945.1 1327.9 2943.3 1330.1 2941.7 1332.2 2940.1 1334.3 2938.5 1336.4 2936.6 1338.2 2934.8 1340.0 2932.8 1341.7 2930.8 1343.5 2928.6 1345.3 2926.4 1347.1 2924.3 1348.9 2922.2 1350.7 2920.3 1352.4 2918.6 1354.2 2917.0 1356.0 2915.8 1359.0 2914.2 1362.0 2913.0 1364.6 2912.0 1367.1 2911.1 1369.7 2910.2 1372.3 2909.4 1374.9 2908.7 1377.4 2908.0 1380.0 2907.4 1382.6 2906.9 1385.2 2906.4 1387.8 2905.9 1390.3 2905.4 1392.9 2905.0 1395.5 2904.7 1398.1 2904.4 1400.7 2904.2 1403.4 2904.0 1406.0 2903.9 1408.7 2903.8 1411.4 2903.6 1414.0 2903.5 1416.7 2903.4 1419.3 2903.4 1422.0 2903.3 1424.7 2903.2 1427.3 2903.2 1430.0 2903.2 1477.0 2903.2 1479.6 2903.2 1482.2 2903.2 1484.9 2903.3 1487.5 2903.3 1490.1 2903.4 1492.7 2903.4 1495.3 2903.5 1497.9 2903.6 1500.6 2903.7 1503.2 2903.7 1505.8 2903.8 1508.3 2903.9 1510.8 2903.9 1513.3 2904.0 1515.8 2904.1 1518.4 2904.2 1520.9 2904.3 1523.4 2904.4 1525.9 2904.5 1528.4 2904.6 1530.9 2904.7 1533.4 2904.8 1535.9 2904.9 1538.4 2904.9 1540.9 2905.0 1543.5 2905.1 1546.0 2905.1 1548.5 2905.2 1551.0 2905.2 1553.5 2905.2 1556.1 2905.2 1558.7 2905.0 1561.3 2904.8 1563.9 2904.6 1566.5 2904.3 1569.0 2904.1 1571.6 2903.8 1574.2 2903.6 1576.8 2903.4 1579.4 2903.2 1582.0 2903.2 1631.0 2903.2 1633.7 2903.3 1636.4 2903.4 1639.1 2903.6 1641.8 2903.8 1644.5 2904.1 1647.2 2904.4 1649.9 2904.6 1652.6 2904.8 1655.3 2904.9 1658.0 2905.0 1660.8 2904.8 1663.5 2904.3 1666.2 2903.6 1669.0 2902.8 1671.8 2901.9 1674.5 2901.2 1677.2 2900.7 1680.0 2900.5 1682.5 2900.5 1685.0 2900.6 1687.5 2900.6 1690.0 2900.7 1692.5 2900.8 1695.0 2900.9 1697.5 2901.0 1700.0 2901.2 1702.5 2901.3 1705.0 2901.5 1707.6 2901.8 1710.3 2902.2 1712.9 2902.7 1715.5 2903.3 1718.2 2903.9 1720.8 2904.5 1723.5 2905.2 1726.1 2905.7 1728.7 2906.1 1731.4 2906.4 1734.0 2906.5 1736.5 2906.3 1739.0 2905.8 1741.5 2905.0 1744.0 2904.0 1746.5 2903.0 1749.0 2902.0 1751.5 2901.0 1754.0 2900.2 1756.5 2899.7 1759.0 2899.5 1761.6 2899.5 1764.1 2899.6 1766.7 2899.7 1769.2 2899.9 1771.8 2900.1 1774.3 2900.3 1776.9 2900.5 1779.4 2900.8 1782.0 2901.0 1784.5 2901.3 1787.1 2901.8 1789.6 2902.4 1792.2 2903.1 1794.7 2903.7 1797.3 2904.4 1799.8 2905.1 1802.4 2905.6 1804.9 2906.1 1807.5 2906.4 1810.0 2906.5 1812.5 2906.2 1815.0 2905.6 1817.5 2904.6 1820.0 2903.5 1822.5 2902.4 1825.0 2901.4 1827.5 2900.8 1830.0 2900.5 1832.5 2900.5 1835.1 2900.6 1837.6 2900.7 1840.2 2900.8 1842.7 2900.9 1845.3 2901.1 1847.8 2901.2 1850.4 2901.3 1852.9 2901.5 1855.5 2901.5 1858.0 2901.6 1860.5 2901.6 1863.1 2901.7 1865.6 2901.7 1868.1 2901.7 1870.7 2901.8 1873.2 2901.8 1875.7 2901.8 1878.3 2901.9 1880.8 2901.9 1883.3 2901.9 1885.9 2901.9 1888.4 2902.0 1890.9 2902.0 1893.5 2902.0 1896.0 2902.0 1898.5 2902.1 1901.1 2902.1 1903.6 2902.1 1906.1 2902.1 1908.7 2902.1 1911.2 2902.1 1913.7 2902.2 1916.3 2902.2 1918.8 2902.2 1921.3 2902.2 1923.9 2902.2 1926.4 2902.2 1928.9 2902.2 1931.5 2902.2 1934.0 2902.2 2361.0 2902.2" fill="none" stroke="#000" stroke-width="7.30" stroke-dasharray="49.20 27.80" stroke-linejoin="round" clip-path="url(#c2)"/>
<path d="M285 2644.4H2361V3712.8H285ZM285 3712.8v-21.5M285 2644.4v21.5M492.6 3712.8v-21.5M492.6 2644.4v21.5M700.2 3712.8v-21.5M700.2 2644.4v21.5M907.8 3712.8v-21.5M907.8 2644.4v21.5M1115.4 3712.8v-21.5M1115.4 2644.4v21.5M1323 3712.8v-21.5M1323 2644.4v21.5M1530.6 3712.8v-21.5M1530.6 2644.4v21.5M1738.2 3712.8v-21.5M1738.2 2644.4v21.5M1945.8 3712.8v-21.5M1945.8 2644.4v21.5M2153.4 3712.8v-21.5M2153.4 2644.4v21.5M2361 3712.8v-21.5M2361 2644.4v21.5M285 3650h21.5M2361 3650h-21.5M285 3335.7h21.5M2361 3335.7h-21.5M285 3021.5h21.5M2361 3021.5h-21.5M285 2707.2h21.5M2361 2707.2h-21.5" fill="none" stroke="#262626" stroke-width="4.00" stroke-linecap="square"/>
<text x="255.5" y="3674.6" font-family="'Liberation Sans', Arial, Helvetica, sans-serif" font-size="62.5" fill="#262626" stroke="#262626" stroke-width="0.6" text-anchor="end">0</text>
<text x="255.5" y="3360.3" font-family="'Liberation Sans', Arial, Helvetica, sans-serif" font-size="62.5" fill="#262626" stroke="#262626" stroke-width="0.6" text-anchor="end">0.05</text>
<text x="255.5" y="3046.1" font-family="'Liberation Sans', Arial, Helvetica, sans-serif" font-size="62.5" fill="#262626" stroke="#262626" stroke-width="0.6" text-anchor="end">0.1</text>
<text x="255.5" y="2731.8" font-family="'Liberation Sans', Arial, Helvetica, sans-serif" font-size="62.5" fill="#262626" stroke="#262626" stroke-width="0.6" text-anchor="end">0.15</text>
<text x="282.5" y="3803.8" font-family="'Liberation Sans', Arial, Helvetica, sans-serif" font-size="62.5" fill="#262626" stroke="#262626" stroke-width="0.6" text-anchor="middle">0</text>
<text x="490.1" y="3803.8" font-family="'Liberation Sans', Arial, Helvetica, sans-serif" font-size="62.5" fill="#262626" stroke="#262626" stroke-width="0.6" text-anchor="middle">1</text>
<text x="697.7" y="3803.8" font-family="'Liberation Sans', Arial, Helvetica, sans-serif" font-size="62.5" fill="#262626" stroke="#262626" stroke-width="0.6" text-anchor="middle">2</text>
<text x="905.3" y="3803.8" font-family="'Liberation Sans', Arial, Helvetica, sans-serif" font-size="62.5" fill="#262626" stroke="#262626" stroke-width="0.6" text-anchor="middle">3</text>
<text x="1112.9" y="3803.8" font-family="'Liberation Sans', Arial, Helvetica, sans-serif" font-size="62.5" fill="#262626" stroke="#262626" stroke-width="0.6" text-anchor="middle">4</text>
<text x="1320.5" y="3803.8" font-family="'Liberation Sans', Arial, Helvetica, sans-serif" font-size="62.5" fill="#262626" stroke="#262626" stroke-width="0.6" text-anchor="middle">5</text>
<text x="1528.1" y="3803.8" font-family="'Liberation Sans', Arial, Helvetica, sans-serif" font-size="62.5" fill="#262626" stroke="#262626" stroke-width="0.6" text-anchor="middle">6</text>
<text x="1735.7" y="3803.8" font-family="'Liberation Sans', Arial, Helvetica, sans-serif" font-size="62.5" fill="#262626" stroke="#262626" stroke-width="0.6" text-anchor="middle">7</text>
<text x="1943.3" y="3803.8" font-family="'Liberation Sans', Arial, Helvetica, sans-serif" font-size="62.5" fill="#262626" stroke="#262626" stroke-width="0.6" text-anchor="middle">8</text>
<text x="2150.9" y="3803.8" font-family="'Liberation Sans', Arial, Helvetica, sans-serif" font-size="62.5" fill="#262626" stroke="#262626" stroke-width="0.6" text-anchor="middle">9</text>
<text x="2358.5" y="3803.8" font-family="'Liberation Sans', Arial, Helvetica, sans-serif" font-size="62.5" fill="#262626" stroke="#262626" stroke-width="0.6" text-anchor="middle">10</text>
<text x="1320.5" y="3901.8" font-family="'Liberation Sans', Arial, Helvetica, sans-serif" font-size="72.0" fill="#262626" stroke="#262626" stroke-width="0.6" text-anchor="middle">time</text>
<text transform="translate(95.7 3180.4) rotate(-90)" x="0" y="0" font-family="'Liberation Sans', Arial, Helvetica, sans-serif" font-size="72.0" fill="#262626" stroke="#262626" stroke-width="0.6" text-anchor="middle">U3</text>
<text x="430" y="2806.7" font-family="'Liberation Sans', Arial, Helvetica, sans-serif" font-size="90" font-weight="bold" fill="#000" stroke="#000" stroke-width="0.6">(c)</text>
<rect x="1620" y="3474.4" width="679.0" height="176.6" fill="#fff" stroke="#262626" stroke-width="3.60"/>
<path d="M1638.7 3523H1783.5" stroke="#0072BD" stroke-width="13.90" stroke-dasharray="10.40 8.80"/>
<path d="M1638.7 3602.2H1783.5" stroke="#000" stroke-width="7.30" stroke-dasharray="49.40 27.80"/>
<text x="1794.4" y="3546.2" font-family="'Liberation Sans', Arial, Helvetica, sans-serif" font-size="57.5" fill="#000" stroke="#000" stroke-width="0.6">LWS</text>
<text x="1794.4" y="3625" font-family="'Liberation Sans', Arial, Helvetica, sans-serif" font-size="57.5" fill="#000" stroke="#000" stroke-width="0.6">MTVDLFSuperbee</text>
</svg>
</body></html>
